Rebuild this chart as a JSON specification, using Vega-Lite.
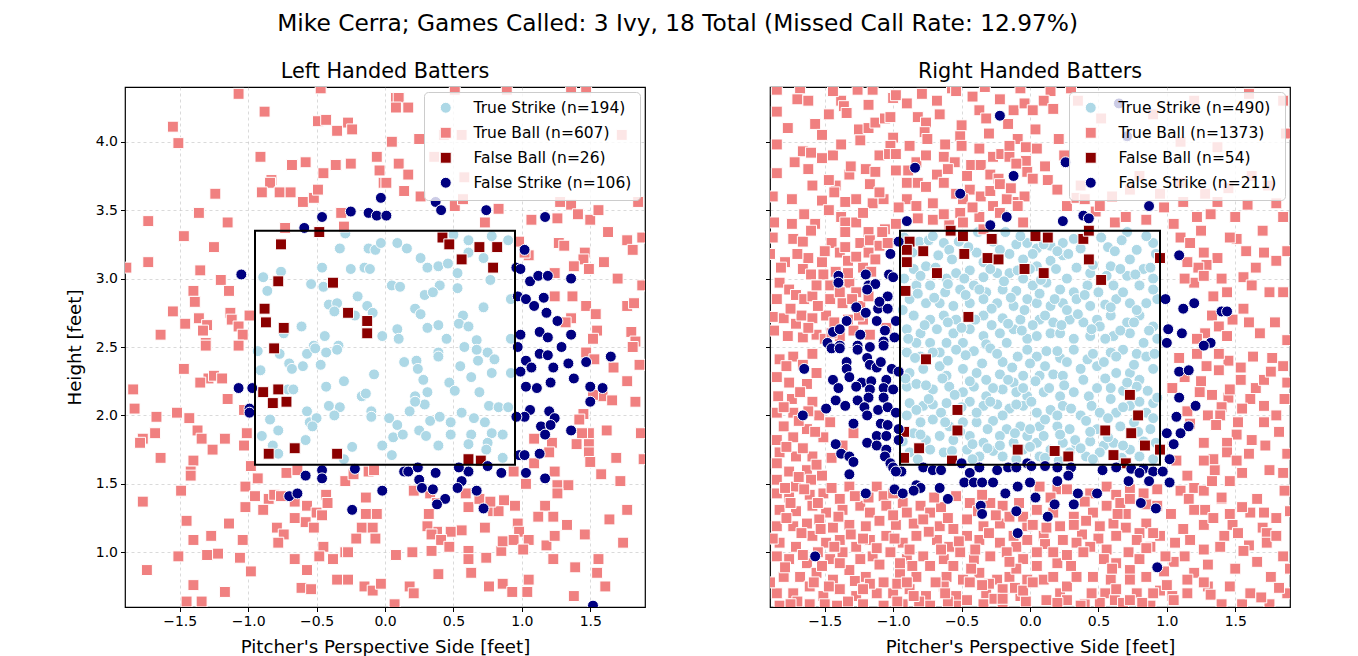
{
"$schema":"https://vega.github.io/schema/vega-lite/v6.json",
"padding":{"left":64,"top":12,"right":10,"bottom":2},
"title":{"text":"Mike Cerra; Games Called: 3 Ivy, 18 Total (Missed Call Rate: 12.97%)","fontSize":23.3,"anchor":"middle","offset":24},
"config":{
"font":"DejaVu Sans",
"view":{"stroke":"black","strokeWidth":1.2},
"axis":{"domain":false,"grid":true,"gridColor":"#b0b0b0","gridOpacity":0.6,"gridDash":[3,3],"gridWidth":0.8,"tickColor":"black","tickSize":4.5,"tickWidth":1,"labelFont":"DejaVu Sans","labelFontSize":14,"labelColor":"black","labelPadding":3,"titleFont":"DejaVu Sans","titleFontSize":18.2,"titleFontWeight":"normal","titleColor":"black"},
"title":{"font":"DejaVu Sans","fontSize":20.8,"fontWeight":"normal","color":"black","offset":4},
"legend":{"fillColor":"rgba(255,255,255,0.8)","strokeColor":"#cccccc","cornerRadius":4,"padding":8,"offset":5,"labelFont":"DejaVu Sans","labelFontSize":15.5,"labelColor":"black","rowPadding":8,"symbolSize":120,"symbolOffset":6,"labelOffset":20,"symbolStrokeColor":"white","symbolStrokeWidth":1}
},
"datasets":{
"zone":[{"x1":-0.95,"x2":0.95,"y1":1.64,"y2":3.35}],
"lhb":[
{"c":"TS","x":-0.29,"y":3.33},{"c":"TS","x":-0.33,"y":3.22},{"c":"TS","x":-0.12,"y":3.22},{"c":"TS","x":-0.07,"y":3.21},{"c":"TS","x":-0.03,"y":3.26},{"c":"TS","x":-0.46,"y":3.08},{"c":"TS","x":-0.25,"y":3.07},{"c":"TS","x":-0.15,"y":3.08},{"c":"TS","x":-0.11,"y":3.07},{"c":"TS","x":-0.76,"y":3.05},{"c":"TS","x":-0.89,"y":3.01},{"c":"TS","x":-0.86,"y":2.91},{"c":"TS","x":-0.54,"y":2.96},{"c":"TS","x":-0.45,"y":2.94},{"c":"TS","x":-0.2,"y":2.87},{"c":"TS","x":-0.41,"y":2.81},{"c":"TS","x":-0.35,"y":2.82},{"c":"TS","x":-0.37,"y":2.76},{"c":"TS","x":-0.13,"y":2.8},{"c":"TS","x":-0.09,"y":2.75},{"c":"TS","x":-0.22,"y":2.73},{"c":"TS","x":-0.61,"y":2.65},{"c":"TS","x":-0.44,"y":2.58},{"c":"TS","x":-0.02,"y":2.58},{"c":"TS","x":-0.52,"y":2.51},{"c":"TS","x":-0.34,"y":2.51},{"c":"TS","x":-0.74,"y":2.6},
{"c":"TS","x":0.09,"y":3.26},{"c":"TS","x":0.16,"y":3.22},{"c":"TS","x":0.5,"y":3.32},{"c":"TS","x":0.61,"y":3.28},{"c":"TS","x":0.78,"y":3.31},{"c":"TS","x":0.9,"y":3.28},{"c":"TS","x":0.72,"y":3.15},{"c":"TS","x":0.26,"y":3.15},{"c":"TS","x":0.31,"y":3.08},{"c":"TS","x":0.39,"y":3.09},{"c":"TS","x":0.46,"y":3.11},{"c":"TS","x":0.53,"y":3.04},{"c":"TS","x":0.61,"y":3.19},{"c":"TS","x":0.05,"y":2.95},{"c":"TS","x":0.11,"y":2.94},{"c":"TS","x":0.4,"y":2.95},{"c":"TS","x":0.29,"y":2.88},{"c":"TS","x":0.35,"y":2.9},{"c":"TS","x":0.53,"y":2.93},{"c":"TS","x":0.77,"y":2.99},{"c":"TS","x":0.92,"y":2.85},{"c":"TS","x":0.22,"y":2.78},{"c":"TS","x":0.26,"y":2.74},{"c":"TS","x":0.57,"y":2.73},{"c":"TS","x":0.72,"y":2.79},{"c":"TS","x":0.39,"y":2.66},{"c":"TS","x":0.31,"y":2.64},{"c":"TS","x":0.09,"y":2.63},{"c":"TS","x":0.54,"y":2.67},{"c":"TS","x":0.61,"y":2.65},{"c":"TS","x":0.1,"y":2.56},{"c":"TS","x":0.45,"y":2.56},{"c":"TS","x":0.67,"y":2.55},{"c":"TS","x":0.92,"y":2.56},
{"c":"TS","x":-0.93,"y":2.47},{"c":"TS","x":-0.77,"y":2.45},{"c":"TS","x":-0.57,"y":2.45},{"c":"TS","x":-0.51,"y":2.49},{"c":"TS","x":-0.43,"y":2.46},{"c":"TS","x":-0.35,"y":2.48},{"c":"TS","x":-0.91,"y":2.33},{"c":"TS","x":-0.7,"y":2.38},{"c":"TS","x":-0.68,"y":2.34},{"c":"TS","x":-0.6,"y":2.36},{"c":"TS","x":-0.47,"y":2.37},{"c":"TS","x":-0.3,"y":2.25},{"c":"TS","x":-0.43,"y":2.21},{"c":"TS","x":-0.08,"y":2.3},{"c":"TS","x":-0.71,"y":2.19},{"c":"TS","x":-0.67,"y":2.19},{"c":"TS","x":-0.17,"y":2.14},{"c":"TS","x":-0.14,"y":2.16},{"c":"TS","x":-0.1,"y":2.03},{"c":"TS","x":-0.1,"y":1.99},{"c":"TS","x":-0.41,"y":2.07},{"c":"TS","x":-0.33,"y":2.06},{"c":"TS","x":-0.57,"y":2.03},{"c":"TS","x":-0.37,"y":2.0},{"c":"TS","x":-0.84,"y":1.97},{"c":"TS","x":-0.78,"y":1.89},{"c":"TS","x":-0.55,"y":1.95},{"c":"TS","x":-0.5,"y":1.98},{"c":"TS","x":-0.53,"y":1.92},{"c":"TS","x":-0.9,"y":1.85},{"c":"TS","x":-0.58,"y":1.82},{"c":"TS","x":-0.82,"y":1.78},{"c":"TS","x":-0.78,"y":1.72},{"c":"TS","x":-0.24,"y":1.77},{"c":"TS","x":-0.3,"y":1.68},{"c":"TS","x":-0.02,"y":1.78},
{"c":"TS","x":0.39,"y":2.46},{"c":"TS","x":0.58,"y":2.5},{"c":"TS","x":0.67,"y":2.48},{"c":"TS","x":0.75,"y":2.46},{"c":"TS","x":0.8,"y":2.41},{"c":"TS","x":0.14,"y":2.39},{"c":"TS","x":0.23,"y":2.4},{"c":"TS","x":0.24,"y":2.34},{"c":"TS","x":0.39,"y":2.43},{"c":"TS","x":0.55,"y":2.36},{"c":"TS","x":0.68,"y":2.4},{"c":"TS","x":0.78,"y":2.31},{"c":"TS","x":0.63,"y":2.28},{"c":"TS","x":0.92,"y":2.31},{"c":"TS","x":0.28,"y":2.26},{"c":"TS","x":0.47,"y":2.24},{"c":"TS","x":0.51,"y":2.18},{"c":"TS","x":0.69,"y":2.17},{"c":"TS","x":0.22,"y":2.14},{"c":"TS","x":0.29,"y":2.08},{"c":"TS","x":0.22,"y":2.1},{"c":"TS","x":0.31,"y":2.17},{"c":"TS","x":0.76,"y":2.07},{"c":"TS","x":0.83,"y":2.06},{"c":"TS","x":0.9,"y":2.06},{"c":"TS","x":0.18,"y":2.03},{"c":"TS","x":0.03,"y":1.98},{"c":"TS","x":0.09,"y":1.93},{"c":"TS","x":0.33,"y":1.96},{"c":"TS","x":0.4,"y":1.99},{"c":"TS","x":0.48,"y":1.95},{"c":"TS","x":0.56,"y":2.02},{"c":"TS","x":0.65,"y":1.98},{"c":"TS","x":0.73,"y":1.95},{"c":"TS","x":0.25,"y":1.89},{"c":"TS","x":0.3,"y":1.85},{"c":"TS","x":0.06,"y":1.84},{"c":"TS","x":0.13,"y":1.86},{"c":"TS","x":0.48,"y":1.86},{"c":"TS","x":0.63,"y":1.86},{"c":"TS","x":0.78,"y":1.87},{"c":"TS","x":0.86,"y":1.86},{"c":"TS","x":0.61,"y":1.79},{"c":"TS","x":0.75,"y":1.8},{"c":"TS","x":0.39,"y":1.78},{"c":"TS","x":0.05,"y":1.71},{"c":"TS","x":0.74,"y":1.75},{"c":"TS","x":0.86,"y":1.69},
{"c":"TB","x":-1.07,"y":4.35},{"c":"TB","x":-0.47,"y":4.39},{"c":"TB","x":-0.88,"y":4.22},{"c":"TB","x":-1.55,"y":4.11},{"c":"TB","x":-1.51,"y":3.99},{"c":"TB","x":-0.49,"y":4.15},{"c":"TB","x":-0.43,"y":4.16},{"c":"TB","x":-0.27,"y":4.14},{"c":"TB","x":-0.24,"y":4.09},{"c":"TB","x":-0.35,"y":4.08},{"c":"TB","x":-0.91,"y":3.89},{"c":"TB","x":-0.68,"y":3.83},{"c":"TB","x":-0.58,"y":3.85},{"c":"TB","x":-0.36,"y":3.83},{"c":"TB","x":-0.25,"y":3.84},{"c":"TB","x":-0.06,"y":3.89},{"c":"TB","x":-0.04,"y":3.79},{"c":"TB","x":-0.45,"y":3.77},{"c":"TB","x":-0.83,"y":3.72},{"c":"TB","x":-0.84,"y":3.7},{"c":"TB","x":-1.24,"y":3.62},{"c":"TB","x":-0.9,"y":3.63},{"c":"TB","x":-0.77,"y":3.63},{"c":"TB","x":-0.69,"y":3.63},{"c":"TB","x":-0.6,"y":3.56},{"c":"TB","x":-0.52,"y":3.59},{"c":"TB","x":-0.49,"y":3.65},{"c":"TB","x":-0.01,"y":3.7},{"c":"TB","x":-1.73,"y":3.42},{"c":"TB","x":-1.36,"y":3.48},{"c":"TB","x":-1.15,"y":3.41},{"c":"TB","x":-0.32,"y":3.48},{"c":"TB","x":-0.73,"y":3.37},{"c":"TB","x":-0.3,"y":3.38},{"c":"TB","x":-1.47,"y":3.31},{"c":"TB","x":-1.25,"y":3.23},{"c":"TB","x":-1.73,"y":3.12},{"c":"TB","x":-1.89,"y":3.08},{"c":"TB","x":-1.35,"y":3.06},{"c":"TB","x":-1.2,"y":2.99},{"c":"TB","x":-1.4,"y":2.91},{"c":"TB","x":-1.14,"y":2.91},{"c":"TB","x":-1.39,"y":2.83},{"c":"TB","x":-1.55,"y":2.76},{"c":"TB","x":-1.13,"y":2.75},{"c":"TB","x":-0.99,"y":2.73},{"c":"TB","x":-1.46,"y":2.67},{"c":"TB","x":-1.36,"y":2.71},{"c":"TB","x":-1.3,"y":2.66},{"c":"TB","x":-1.12,"y":2.7},{"c":"TB","x":-1.07,"y":2.65},{"c":"TB","x":-1.33,"y":2.62},{"c":"TB","x":-1.04,"y":2.59},{"c":"TB","x":-1.64,"y":2.59},{"c":"TB","x":-1.31,"y":2.53},{"c":"TB","x":-1.07,"y":2.51},
{"c":"TB","x":0.08,"y":4.32},{"c":"TB","x":0.1,"y":4.32},{"c":"TB","x":0.17,"y":4.25},{"c":"TB","x":0.08,"y":4.25},{"c":"TB","x":0.05,"y":4.0},{"c":"TB","x":0.25,"y":4.02},{"c":"TB","x":0.1,"y":3.84},{"c":"TB","x":0.17,"y":3.76},{"c":"TB","x":0.01,"y":3.7},{"c":"TB","x":0.14,"y":3.64},{"c":"TB","x":0.26,"y":3.6},{"c":"TB","x":0.51,"y":4.38},{"c":"TB","x":0.89,"y":4.38},{"c":"TB","x":1.36,"y":4.39},{"c":"TB","x":1.47,"y":4.39},{"c":"TB","x":0.43,"y":4.05},{"c":"TB","x":0.56,"y":4.05},{"c":"TB","x":0.58,"y":3.74},{"c":"TB","x":0.36,"y":3.89},{"c":"TB","x":1.73,"y":4.05},{"c":"TB","x":0.51,"y":3.53},{"c":"TB","x":0.57,"y":3.58},{"c":"TB","x":0.83,"y":3.51},{"c":"TB","x":0.73,"y":3.41},{"c":"TB","x":1.07,"y":3.43},{"c":"TB","x":1.26,"y":3.44},{"c":"TB","x":1.28,"y":3.56},{"c":"TB","x":1.36,"y":3.54},{"c":"TB","x":1.41,"y":3.47},{"c":"TB","x":1.5,"y":3.43},{"c":"TB","x":1.56,"y":3.5},{"c":"TB","x":1.85,"y":3.56},{"c":"TB","x":0.98,"y":3.27},{"c":"TB","x":1.05,"y":3.17},{"c":"TB","x":1.27,"y":3.26},{"c":"TB","x":1.31,"y":3.24},{"c":"TB","x":1.46,"y":3.19},{"c":"TB","x":1.45,"y":3.14},{"c":"TB","x":1.49,"y":3.07},{"c":"TB","x":1.63,"y":3.34},{"c":"TB","x":1.77,"y":3.28},{"c":"TB","x":1.81,"y":3.21},{"c":"TB","x":1.88,"y":3.3},{"c":"TB","x":1.6,"y":3.12},{"c":"TB","x":1.7,"y":3.0},{"c":"TB","x":1.38,"y":3.09},{"c":"TB","x":1.24,"y":2.87},{"c":"TB","x":1.37,"y":2.87},{"c":"TB","x":1.24,"y":3.04},{"c":"TB","x":1.47,"y":2.8},{"c":"TB","x":1.54,"y":2.74},{"c":"TB","x":1.77,"y":2.8},{"c":"TB","x":1.82,"y":2.82},{"c":"TB","x":1.88,"y":2.95},{"c":"TB","x":1.36,"y":2.71},{"c":"TB","x":1.32,"y":2.68},{"c":"TB","x":1.55,"y":2.62},{"c":"TB","x":1.52,"y":2.56},{"c":"TB","x":1.8,"y":2.61},{"c":"TB","x":1.83,"y":2.54},{"c":"TB","x":1.02,"y":3.19},
{"c":"TB","x":-1.31,"y":2.51},{"c":"TB","x":-1.47,"y":2.34},{"c":"TB","x":-1.29,"y":2.27},{"c":"TB","x":-1.35,"y":2.24},{"c":"TB","x":-1.25,"y":2.29},{"c":"TB","x":-1.19,"y":2.27},{"c":"TB","x":-1.84,"y":2.19},{"c":"TB","x":-1.83,"y":2.05},{"c":"TB","x":-1.15,"y":2.12},{"c":"TB","x":-1.03,"y":2.04},{"c":"TB","x":-1.67,"y":1.99},{"c":"TB","x":-1.52,"y":2.02},{"c":"TB","x":-1.43,"y":1.98},{"c":"TB","x":-1.37,"y":1.89},{"c":"TB","x":-1.34,"y":1.83},{"c":"TB","x":-1.68,"y":1.87},{"c":"TB","x":-1.77,"y":1.83},{"c":"TB","x":-1.79,"y":1.8},{"c":"TB","x":-1.17,"y":1.83},{"c":"TB","x":-1.26,"y":1.75},{"c":"TB","x":-1.01,"y":1.87},{"c":"TB","x":-1.03,"y":1.78},{"c":"TB","x":-1.64,"y":1.69},{"c":"TB","x":-1.4,"y":1.67},{"c":"TB","x":-1.42,"y":1.59},{"c":"TB","x":-1.42,"y":1.56},{"c":"TB","x":-0.98,"y":1.63},{"c":"TB","x":-0.93,"y":1.54},{"c":"TB","x":-1.02,"y":1.48},{"c":"TB","x":-1.49,"y":1.45},{"c":"TB","x":-0.95,"y":1.41},{"c":"TB","x":-0.85,"y":1.39},{"c":"TB","x":-0.89,"y":1.31},{"c":"TB","x":-0.81,"y":1.42},{"c":"TB","x":-0.76,"y":1.41},{"c":"TB","x":-0.72,"y":1.58},{"c":"TB","x":-0.64,"y":1.6},{"c":"TB","x":-1.02,"y":1.33},{"c":"TB","x":-1.77,"y":1.37},{"c":"TB","x":-1.45,"y":1.23},{"c":"TB","x":-1.14,"y":1.21},{"c":"TB","x":-1.4,"y":1.09},{"c":"TB","x":-1.27,"y":1.12},{"c":"TB","x":-1.04,"y":1.09},{"c":"TB","x":-1.51,"y":0.97},{"c":"TB","x":-1.3,"y":0.98},{"c":"TB","x":-1.22,"y":0.99},{"c":"TB","x":-1.06,"y":0.96},{"c":"TB","x":-0.98,"y":0.86},{"c":"TB","x":-1.74,"y":0.87},{"c":"TB","x":-1.4,"y":0.76},{"c":"TB","x":-1.17,"y":0.71},{"c":"TB","x":-1.45,"y":0.64},{"c":"TB","x":-1.34,"y":0.64},{"c":"TB","x":-0.66,"y":1.37},{"c":"TB","x":-0.57,"y":1.34},{"c":"TB","x":-0.5,"y":1.29},{"c":"TB","x":-0.46,"y":1.27},{"c":"TB","x":-0.58,"y":1.22},{"c":"TB","x":-0.52,"y":1.18},{"c":"TB","x":-0.66,"y":1.25},{"c":"TB","x":-0.79,"y":1.18},{"c":"TB","x":-0.74,"y":1.13},{"c":"TB","x":-0.78,"y":1.07},{"c":"TB","x":-0.43,"y":1.42},{"c":"TB","x":-0.42,"y":1.36},{"c":"TB","x":-0.45,"y":1.04},{"c":"TB","x":-0.48,"y":0.97},{"c":"TB","x":-0.38,"y":0.95},{"c":"TB","x":-0.29,"y":1.0},{"c":"TB","x":-0.27,"y":1.0},{"c":"TB","x":-0.66,"y":0.95},{"c":"TB","x":-0.57,"y":0.87},{"c":"TB","x":-0.35,"y":0.8},{"c":"TB","x":-0.27,"y":0.8},{"c":"TB","x":-0.61,"y":0.74},{"c":"TB","x":-0.54,"y":0.73},{"c":"TB","x":-0.15,"y":0.75},{"c":"TB","x":-0.09,"y":0.72},{"c":"TB","x":-0.03,"y":0.77},{"c":"TB","x":-0.14,"y":1.4},{"c":"TB","x":-0.06,"y":1.28},{"c":"TB","x":-0.14,"y":1.28},{"c":"TB","x":-0.17,"y":1.18},{"c":"TB","x":-0.09,"y":1.18},{"c":"TB","x":-0.07,"y":1.1},{"c":"TB","x":-0.21,"y":1.1},{"c":"TB","x":-0.29,"y":1.52},{"c":"TB","x":-0.23,"y":1.57},{"c":"TB","x":-0.12,"y":1.59},{"c":"TB","x":-0.08,"y":1.6},
{"c":"TB","x":1.47,"y":2.46},{"c":"TB","x":1.53,"y":2.41},{"c":"TB","x":1.67,"y":2.35},{"c":"TB","x":1.81,"y":2.5},{"c":"TB","x":1.86,"y":2.37},{"c":"TB","x":1.77,"y":2.25},{"c":"TB","x":1.59,"y":2.14},{"c":"TB","x":1.66,"y":2.11},{"c":"TB","x":1.83,"y":2.1},{"c":"TB","x":1.52,"y":2.15},{"c":"TB","x":1.45,"y":2.01},{"c":"TB","x":1.42,"y":1.97},{"c":"TB","x":1.49,"y":1.87},{"c":"TB","x":1.44,"y":1.87},{"c":"TB","x":1.4,"y":1.79},{"c":"TB","x":1.49,"y":1.79},{"c":"TB","x":1.49,"y":1.73},{"c":"TB","x":1.5,"y":1.66},{"c":"TB","x":1.62,"y":1.89},{"c":"TB","x":1.87,"y":1.87},{"c":"TB","x":1.22,"y":1.8},{"c":"TB","x":1.09,"y":1.83},{"c":"TB","x":1.2,"y":1.73},{"c":"TB","x":1.09,"y":1.65},{"c":"TB","x":1.24,"y":1.59},{"c":"TB","x":1.69,"y":1.69},{"c":"TB","x":1.89,"y":1.68},{"c":"TB","x":1.58,"y":1.57},{"c":"TB","x":1.72,"y":1.52},{"c":"TB","x":0.94,"y":1.59},{"c":"TB","x":1.03,"y":1.5},{"c":"TB","x":1.26,"y":1.49},{"c":"TB","x":1.34,"y":1.49},{"c":"TB","x":1.26,"y":1.43},{"c":"TB","x":0.87,"y":1.38},{"c":"TB","x":0.95,"y":1.34},{"c":"TB","x":1.17,"y":1.34},{"c":"TB","x":0.79,"y":1.3},{"c":"TB","x":0.83,"y":1.3},{"c":"TB","x":0.61,"y":1.33},{"c":"TB","x":0.69,"y":1.39},{"c":"TB","x":0.77,"y":1.37},{"c":"TB","x":1.12,"y":1.26},{"c":"TB","x":1.23,"y":1.26},{"c":"TB","x":1.33,"y":1.2},{"c":"TB","x":1.46,"y":1.13},{"c":"TB","x":1.64,"y":1.24},{"c":"TB","x":1.77,"y":1.31},{"c":"TB","x":0.97,"y":1.21},{"c":"TB","x":0.98,"y":1.15},{"c":"TB","x":0.73,"y":1.18},{"c":"TB","x":0.56,"y":1.16},{"c":"TB","x":0.48,"y":1.15},{"c":"TB","x":0.38,"y":1.15},{"c":"TB","x":0.31,"y":1.19},{"c":"TB","x":0.34,"y":1.13},{"c":"TB","x":0.41,"y":1.09},{"c":"TB","x":0.47,"y":1.04},{"c":"TB","x":0.34,"y":1.01},{"c":"TB","x":0.2,"y":1.0},{"c":"TB","x":0.08,"y":0.98},{"c":"TB","x":0.61,"y":1.01},{"c":"TB","x":0.61,"y":0.95},{"c":"TB","x":0.74,"y":0.96},{"c":"TB","x":0.85,"y":1.01},{"c":"TB","x":0.86,"y":1.08},{"c":"TB","x":0.94,"y":1.09},{"c":"TB","x":1.05,"y":1.09},{"c":"TB","x":1.18,"y":1.05},{"c":"TB","x":1.24,"y":1.12},{"c":"TB","x":1.01,"y":1.02},{"c":"TB","x":1.23,"y":0.95},{"c":"TB","x":1.39,"y":0.89},{"c":"TB","x":1.55,"y":0.85},{"c":"TB","x":1.56,"y":0.95},{"c":"TB","x":1.74,"y":1.07},{"c":"TB","x":0.39,"y":0.84},{"c":"TB","x":0.63,"y":0.85},{"c":"TB","x":1.05,"y":0.8},{"c":"TB","x":0.76,"y":0.75},{"c":"TB","x":0.86,"y":0.77},{"c":"TB","x":0.93,"y":0.71},{"c":"TB","x":1.04,"y":0.71},{"c":"TB","x":1.38,"y":0.68},{"c":"TB","x":1.61,"y":0.75},{"c":"TB","x":0.18,"y":0.75},{"c":"TB","x":0.21,"y":0.7},{"c":"TB","x":0.07,"y":0.62},{"c":"TB","x":0.33,"y":1.43},{"c":"TB","x":0.21,"y":1.45},{"c":"TB","x":0.59,"y":1.43},{"c":"TB","x":0.32,"y":1.28},{"c":"TB","x":0.38,"y":1.36},
{"c":"FB","x":-0.48,"y":3.34},{"c":"FB","x":-0.76,"y":3.25},{"c":"FB","x":-0.78,"y":2.98},{"c":"FB","x":-0.38,"y":2.97},{"c":"FB","x":-0.88,"y":2.78},{"c":"FB","x":-0.87,"y":2.68},{"c":"FB","x":-0.74,"y":2.64},{"c":"FB","x":-0.27,"y":2.75},{"c":"FB","x":-0.13,"y":2.69},{"c":"FB","x":-0.13,"y":2.6},{"c":"FB","x":-0.81,"y":2.49},{"c":"FB","x":0.42,"y":3.3},{"c":"FB","x":0.47,"y":3.25},{"c":"FB","x":0.69,"y":3.23},{"c":"FB","x":0.82,"y":3.23},{"c":"FB","x":0.56,"y":3.14},{"c":"FB","x":0.79,"y":3.08},{"c":"FB","x":-0.78,"y":2.19},{"c":"FB","x":-0.89,"y":2.17},{"c":"FB","x":-0.82,"y":2.09},{"c":"FB","x":-0.72,"y":2.1},{"c":"FB","x":-0.66,"y":1.76},{"c":"FB","x":-0.85,"y":1.72},{"c":"FB","x":-0.35,"y":1.72},{"c":"FB","x":0.61,"y":1.68},{"c":"FB","x":0.7,"y":1.67},
{"c":"FS","x":-0.03,"y":3.59},{"c":"FS","x":-0.25,"y":3.49},{"c":"FS","x":-0.12,"y":3.48},{"c":"FS","x":-0.06,"y":3.46},{"c":"FS","x":-0.46,"y":3.45},{"c":"FS","x":-0.59,"y":3.37},{"c":"FS","x":-1.05,"y":3.03},
{"c":"FS","x":0.01,"y":3.46},{"c":"FS","x":0.37,"y":3.56},{"c":"FS","x":0.41,"y":3.5},{"c":"FS","x":0.74,"y":3.5},{"c":"FS","x":1.17,"y":3.45},{"c":"FS","x":1.02,"y":3.21},{"c":"FS","x":0.96,"y":3.08},{"c":"FS","x":0.99,"y":3.07},{"c":"FS","x":1.06,"y":2.98},{"c":"FS","x":1.12,"y":3.02},{"c":"FS","x":1.19,"y":3.02},{"c":"FS","x":1.36,"y":3.0},{"c":"FS","x":0.97,"y":2.87},{"c":"FS","x":1.03,"y":2.85},{"c":"FS","x":1.09,"y":2.8},{"c":"FS","x":1.16,"y":2.86},{"c":"FS","x":1.18,"y":2.75},{"c":"FS","x":1.26,"y":2.69},{"c":"FS","x":1.13,"y":2.61},{"c":"FS","x":1.19,"y":2.57},{"c":"FS","x":1.36,"y":2.59},{"c":"FS","x":0.99,"y":2.59},
{"c":"FS","x":-1.07,"y":2.2},{"c":"FS","x":-0.97,"y":2.2},{"c":"FS","x":-0.99,"y":2.05},{"c":"FS","x":-0.99,"y":2.02},{"c":"FS","x":-0.58,"y":1.56},{"c":"FS","x":-0.46,"y":1.6},{"c":"FS","x":-0.46,"y":1.54},{"c":"FS","x":-0.7,"y":1.41},{"c":"FS","x":-0.64,"y":1.43},{"c":"FS","x":-0.22,"y":1.61},{"c":"FS","x":-0.24,"y":1.31},{"c":"FS","x":-0.02,"y":1.45},
{"c":"FS","x":0.97,"y":2.5},{"c":"FS","x":1.13,"y":2.45},{"c":"FS","x":1.19,"y":2.44},{"c":"FS","x":1.29,"y":2.5},{"c":"FS","x":1.03,"y":2.4},{"c":"FS","x":1.07,"y":2.35},{"c":"FS","x":0.99,"y":2.32},{"c":"FS","x":1.23,"y":2.35},{"c":"FS","x":1.34,"y":2.38},{"c":"FS","x":1.47,"y":2.39},{"c":"FS","x":1.65,"y":2.43},{"c":"FS","x":1.38,"y":2.27},{"c":"FS","x":1.03,"y":2.21},{"c":"FS","x":1.11,"y":2.2},{"c":"FS","x":1.21,"y":2.24},{"c":"FS","x":1.5,"y":2.21},{"c":"FS","x":1.59,"y":2.2},{"c":"FS","x":1.5,"y":2.1},{"c":"FS","x":1.06,"y":2.04},{"c":"FS","x":1.2,"y":2.03},{"c":"FS","x":1.02,"y":1.99},{"c":"FS","x":0.96,"y":1.99},{"c":"FS","x":1.24,"y":1.98},{"c":"FS","x":1.14,"y":1.92},{"c":"FS","x":1.21,"y":1.93},{"c":"FS","x":1.17,"y":1.86},{"c":"FS","x":1.36,"y":1.89},{"c":"FS","x":0.98,"y":1.71},{"c":"FS","x":1.02,"y":1.71},{"c":"FS","x":1.13,"y":1.72},{"c":"FS","x":1.03,"y":1.58},{"c":"FS","x":1.17,"y":1.54},{"c":"FS","x":0.85,"y":1.58},{"c":"FS","x":0.75,"y":1.63},{"c":"FS","x":0.61,"y":1.59},{"c":"FS","x":0.54,"y":1.62},{"c":"FS","x":0.56,"y":1.52},{"c":"FS","x":0.37,"y":1.58},{"c":"FS","x":0.14,"y":1.59},{"c":"FS","x":0.17,"y":1.59},{"c":"FS","x":0.25,"y":1.53},{"c":"FS","x":0.24,"y":1.62},{"c":"FS","x":0.27,"y":1.47},{"c":"FS","x":0.35,"y":1.46},{"c":"FS","x":0.53,"y":1.47},{"c":"FS","x":0.67,"y":1.45},{"c":"FS","x":0.44,"y":1.39},{"c":"FS","x":0.38,"y":1.35},{"c":"FS","x":0.72,"y":1.32},{"c":"FS","x":1.52,"y":0.61}
],
"rhb":[
{"c":"TS","x":-0.81,"y":3.27},{"c":"TS","x":-0.74,"y":3.28},{"c":"TS","x":-0.63,"y":3.26},{"c":"TS","x":-0.59,"y":3.21},{"c":"TS","x":-0.38,"y":3.34},{"c":"TS","x":-0.18,"y":3.34},{"c":"TS","x":-0.1,"y":3.25},{"c":"TS","x":-0.02,"y":3.26},{"c":"TS","x":-0.67,"y":3.17},{"c":"TS","x":-0.57,"y":3.14},{"c":"TS","x":-0.39,"y":3.19},{"c":"TS","x":-0.34,"y":3.12},{"c":"TS","x":-0.15,"y":3.18},{"c":"TS","x":-0.05,"y":3.14},{"c":"TS","x":-0.85,"y":3.07},{"c":"TS","x":-0.76,"y":3.09},{"c":"TS","x":-0.61,"y":3.0},{"c":"TS","x":-0.54,"y":3.04},{"c":"TS","x":-0.44,"y":3.06},{"c":"TS","x":-0.34,"y":3.01},{"c":"TS","x":-0.24,"y":3.04},{"c":"TS","x":-0.15,"y":3.04},{"c":"TS","x":-0.05,"y":3.0},{"c":"TS","x":-0.83,"y":2.95},{"c":"TS","x":-0.73,"y":2.95},{"c":"TS","x":-0.62,"y":2.9},{"c":"TS","x":-0.51,"y":2.92},{"c":"TS","x":-0.41,"y":2.95},{"c":"TS","x":-0.32,"y":2.9},{"c":"TS","x":-0.2,"y":2.92},{"c":"TS","x":-0.1,"y":2.91},{"c":"TS","x":-0.88,"y":2.85},{"c":"TS","x":-0.76,"y":2.82},{"c":"TS","x":-0.66,"y":2.82},{"c":"TS","x":-0.56,"y":2.8},{"c":"TS","x":-0.44,"y":2.82},{"c":"TS","x":-0.34,"y":2.85},{"c":"TS","x":-0.24,"y":2.82},{"c":"TS","x":-0.12,"y":2.8},{"c":"TS","x":-0.02,"y":2.85},{"c":"TS","x":-0.85,"y":2.73},{"c":"TS","x":-0.73,"y":2.7},{"c":"TS","x":-0.63,"y":2.73},{"c":"TS","x":-0.54,"y":2.7},{"c":"TS","x":-0.34,"y":2.73},{"c":"TS","x":-0.2,"y":2.71},{"c":"TS","x":-0.07,"y":2.7},{"c":"TS","x":-0.9,"y":2.63},{"c":"TS","x":-0.8,"y":2.6},{"c":"TS","x":-0.68,"y":2.63},{"c":"TS","x":-0.56,"y":2.6},{"c":"TS","x":-0.44,"y":2.63},{"c":"TS","x":-0.34,"y":2.58},{"c":"TS","x":-0.22,"y":2.6},{"c":"TS","x":-0.12,"y":2.63},{"c":"TS","x":-0.02,"y":2.56},{"c":"TS","x":-0.83,"y":2.53},{"c":"TS","x":-0.73,"y":2.53},{"c":"TS","x":-0.61,"y":2.53},{"c":"TS","x":-0.49,"y":2.53},{"c":"TS","x":-0.32,"y":2.52},{"c":"TS","x":-0.17,"y":2.53},
{"c":"TS","x":0.05,"y":3.22},{"c":"TS","x":0.15,"y":3.24},{"c":"TS","x":0.24,"y":3.26},{"c":"TS","x":0.32,"y":3.29},{"c":"TS","x":0.57,"y":3.23},{"c":"TS","x":0.71,"y":3.34},{"c":"TS","x":0.78,"y":3.21},{"c":"TS","x":0.9,"y":3.26},{"c":"TS","x":0.05,"y":3.09},{"c":"TS","x":0.15,"y":3.13},{"c":"TS","x":0.24,"y":3.17},{"c":"TS","x":0.34,"y":3.08},{"c":"TS","x":0.44,"y":3.04},{"c":"TS","x":0.59,"y":3.09},{"c":"TS","x":0.73,"y":3.14},{"c":"TS","x":0.83,"y":3.07},{"c":"TS","x":0.9,"y":3.0},{"c":"TS","x":0.02,"y":2.95},{"c":"TS","x":0.12,"y":2.97},{"c":"TS","x":0.22,"y":2.92},{"c":"TS","x":0.32,"y":2.9},{"c":"TS","x":0.42,"y":2.95},{"c":"TS","x":0.61,"y":2.95},{"c":"TS","x":0.71,"y":3.02},{"c":"TS","x":0.8,"y":2.95},{"c":"TS","x":0.05,"y":2.82},{"c":"TS","x":0.15,"y":2.8},{"c":"TS","x":0.24,"y":2.82},{"c":"TS","x":0.34,"y":2.85},{"c":"TS","x":0.44,"y":2.8},{"c":"TS","x":0.55,"y":2.81},{"c":"TS","x":0.63,"y":2.85},{"c":"TS","x":0.73,"y":2.82},{"c":"TS","x":0.85,"y":2.82},{"c":"TS","x":0.93,"y":2.85},{"c":"TS","x":0.07,"y":2.7},{"c":"TS","x":0.17,"y":2.68},{"c":"TS","x":0.29,"y":2.7},{"c":"TS","x":0.39,"y":2.68},{"c":"TS","x":0.49,"y":2.7},{"c":"TS","x":0.59,"y":2.73},{"c":"TS","x":0.71,"y":2.68},{"c":"TS","x":0.8,"y":2.73},{"c":"TS","x":0.9,"y":2.65},{"c":"TS","x":0.05,"y":2.58},{"c":"TS","x":0.15,"y":2.6},{"c":"TS","x":0.22,"y":2.6},{"c":"TS","x":0.32,"y":2.56},{"c":"TS","x":0.44,"y":2.58},{"c":"TS","x":0.51,"y":2.65},{"c":"TS","x":0.61,"y":2.58},{"c":"TS","x":0.73,"y":2.6},{"c":"TS","x":0.83,"y":2.53},{"c":"TS","x":0.93,"y":2.56},
{"c":"TS","x":-0.9,"y":2.46},{"c":"TS","x":-0.8,"y":2.43},{"c":"TS","x":-0.66,"y":2.46},{"c":"TS","x":-0.54,"y":2.48},{"c":"TS","x":-0.41,"y":2.47},{"c":"TS","x":-0.29,"y":2.49},{"c":"TS","x":-0.2,"y":2.39},{"c":"TS","x":-0.09,"y":2.43},{"c":"TS","x":-0.02,"y":2.48},{"c":"TS","x":-0.88,"y":2.31},{"c":"TS","x":-0.78,"y":2.34},{"c":"TS","x":-0.66,"y":2.36},{"c":"TS","x":-0.61,"y":2.29},{"c":"TS","x":-0.49,"y":2.34},{"c":"TS","x":-0.39,"y":2.31},{"c":"TS","x":-0.32,"y":2.26},{"c":"TS","x":-0.22,"y":2.3},{"c":"TS","x":-0.12,"y":2.24},{"c":"TS","x":-0.05,"y":2.29},{"c":"TS","x":-0.9,"y":2.21},{"c":"TS","x":-0.83,"y":2.23},{"c":"TS","x":-0.71,"y":2.19},{"c":"TS","x":-0.59,"y":2.21},{"c":"TS","x":-0.49,"y":2.17},{"c":"TS","x":-0.41,"y":2.21},{"c":"TS","x":-0.32,"y":2.14},{"c":"TS","x":-0.2,"y":2.19},{"c":"TS","x":-0.1,"y":2.17},{"c":"TS","x":-0.02,"y":2.14},{"c":"TS","x":-0.88,"y":2.09},{"c":"TS","x":-0.78,"y":2.07},{"c":"TS","x":-0.71,"y":2.08},{"c":"TS","x":-0.61,"y":2.09},{"c":"TS","x":-0.44,"y":2.1},{"c":"TS","x":-0.34,"y":2.07},{"c":"TS","x":-0.24,"y":2.08},{"c":"TS","x":-0.15,"y":2.05},{"c":"TS","x":-0.05,"y":2.07},{"c":"TS","x":-0.9,"y":2.0},{"c":"TS","x":-0.8,"y":1.95},{"c":"TS","x":-0.71,"y":1.97},{"c":"TS","x":-0.59,"y":1.92},{"c":"TS","x":-0.49,"y":1.95},{"c":"TS","x":-0.39,"y":1.95},{"c":"TS","x":-0.27,"y":1.96},{"c":"TS","x":-0.17,"y":1.9},{"c":"TS","x":-0.07,"y":1.92},{"c":"TS","x":-0.85,"y":1.87},{"c":"TS","x":-0.76,"y":1.82},{"c":"TS","x":-0.66,"y":1.85},{"c":"TS","x":-0.56,"y":1.82},{"c":"TS","x":-0.44,"y":1.85},{"c":"TS","x":-0.34,"y":1.8},{"c":"TS","x":-0.22,"y":1.85},{"c":"TS","x":-0.12,"y":1.8},{"c":"TS","x":-0.02,"y":1.85},{"c":"TS","x":-0.88,"y":1.73},{"c":"TS","x":-0.73,"y":1.75},{"c":"TS","x":-0.63,"y":1.73},{"c":"TS","x":-0.46,"y":1.75},{"c":"TS","x":-0.37,"y":1.7},{"c":"TS","x":-0.27,"y":1.74},{"c":"TS","x":-0.2,"y":1.7},{"c":"TS","x":-0.05,"y":1.75},
{"c":"TS","x":0.05,"y":2.43},{"c":"TS","x":0.12,"y":2.47},{"c":"TS","x":0.22,"y":2.42},{"c":"TS","x":0.32,"y":2.48},{"c":"TS","x":0.42,"y":2.41},{"c":"TS","x":0.59,"y":2.46},{"c":"TS","x":0.68,"y":2.48},{"c":"TS","x":0.78,"y":2.45},{"c":"TS","x":0.85,"y":2.43},{"c":"TS","x":0.07,"y":2.29},{"c":"TS","x":0.17,"y":2.3},{"c":"TS","x":0.24,"y":2.29},{"c":"TS","x":0.37,"y":2.34},{"c":"TS","x":0.49,"y":2.36},{"c":"TS","x":0.63,"y":2.31},{"c":"TS","x":0.73,"y":2.31},{"c":"TS","x":0.8,"y":2.26},{"c":"TS","x":0.9,"y":2.34},{"c":"TS","x":0.1,"y":2.17},{"c":"TS","x":0.22,"y":2.14},{"c":"TS","x":0.32,"y":2.17},{"c":"TS","x":0.43,"y":2.14},{"c":"TS","x":0.49,"y":2.2},{"c":"TS","x":0.59,"y":2.12},{"c":"TS","x":0.68,"y":2.18},{"c":"TS","x":0.78,"y":2.21},{"c":"TS","x":0.9,"y":2.09},{"c":"TS","x":0.05,"y":2.02},{"c":"TS","x":0.15,"y":2.04},{"c":"TS","x":0.24,"y":2.07},{"c":"TS","x":0.37,"y":2.0},{"c":"TS","x":0.51,"y":2.02},{"c":"TS","x":0.63,"y":2.02},{"c":"TS","x":0.73,"y":2.07},{"c":"TS","x":0.85,"y":2.02},{"c":"TS","x":0.9,"y":1.98},{"c":"TS","x":0.07,"y":1.92},{"c":"TS","x":0.2,"y":1.92},{"c":"TS","x":0.29,"y":1.9},{"c":"TS","x":0.41,"y":1.96},{"c":"TS","x":0.49,"y":1.9},{"c":"TS","x":0.66,"y":1.92},{"c":"TS","x":0.76,"y":1.95},{"c":"TS","x":0.88,"y":1.9},{"c":"TS","x":0.05,"y":1.8},{"c":"TS","x":0.15,"y":1.75},{"c":"TS","x":0.24,"y":1.8},{"c":"TS","x":0.34,"y":1.78},{"c":"TS","x":0.44,"y":1.81},{"c":"TS","x":0.54,"y":1.78},{"c":"TS","x":0.61,"y":1.8},{"c":"TS","x":0.73,"y":1.75},{"c":"TS","x":0.83,"y":1.81},{"c":"TS","x":0.07,"y":1.7},{"c":"TS","x":0.29,"y":1.73},{"c":"TS","x":0.41,"y":1.7},{"c":"TS","x":0.51,"y":1.73},{"c":"TS","x":0.8,"y":1.7},
{"c":"TS","x":-0.92,"y":3.3},{"c":"TS","x":-0.86,"y":3.19},{"c":"TS","x":-0.71,"y":3.31},{"c":"TS","x":-0.52,"y":3.27},{"c":"TS","x":-0.45,"y":3.23},{"c":"TS","x":-0.27,"y":3.27},{"c":"TS","x":-0.22,"y":3.21},{"c":"TS","x":-0.07,"y":3.31},{"c":"TS","x":0.02,"y":3.18},{"c":"TS","x":0.1,"y":3.25},{"c":"TS","x":0.2,"y":3.2},{"c":"TS","x":0.28,"y":3.18},{"c":"TS","x":0.37,"y":3.22},{"c":"TS","x":0.52,"y":3.3},{"c":"TS","x":0.62,"y":3.2},{"c":"TS","x":0.67,"y":3.28},{"c":"TS","x":0.85,"y":3.31},{"c":"TS","x":0.92,"y":3.18},{"c":"TS","x":-0.92,"y":3.0},{"c":"TS","x":-0.8,"y":3.02},{"c":"TS","x":-0.69,"y":3.08},{"c":"TS","x":-0.48,"y":3.0},{"c":"TS","x":-0.29,"y":3.07},{"c":"TS","x":-0.19,"y":2.98},{"c":"TS","x":-0.09,"y":3.06},{"c":"TS","x":0.0,"y":3.07},{"c":"TS","x":0.08,"y":2.99},{"c":"TS","x":0.19,"y":3.07},{"c":"TS","x":0.27,"y":3.0},{"c":"TS","x":0.46,"y":3.1},{"c":"TS","x":0.56,"y":3.02},{"c":"TS","x":0.66,"y":3.07},{"c":"TS","x":0.77,"y":3.03},{"c":"TS","x":0.88,"y":3.08},{"c":"TS","x":-0.93,"y":2.77},{"c":"TS","x":-0.82,"y":2.89},{"c":"TS","x":-0.7,"y":2.86},{"c":"TS","x":-0.6,"y":2.96},{"c":"TS","x":-0.47,"y":2.88},{"c":"TS","x":-0.37,"y":2.92},{"c":"TS","x":-0.28,"y":2.78},{"c":"TS","x":-0.14,"y":2.86},{"c":"TS","x":-0.04,"y":2.77},{"c":"TS","x":0.07,"y":2.89},{"c":"TS","x":0.18,"y":2.85},{"c":"TS","x":0.27,"y":2.77},{"c":"TS","x":0.4,"y":2.88},{"c":"TS","x":0.5,"y":2.9},{"c":"TS","x":0.59,"y":2.79},{"c":"TS","x":0.68,"y":2.9},{"c":"TS","x":0.78,"y":2.77},{"c":"TS","x":0.9,"y":2.92},{"c":"TS","x":-0.89,"y":2.56},{"c":"TS","x":-0.77,"y":2.66},{"c":"TS","x":-0.6,"y":2.68},{"c":"TS","x":-0.5,"y":2.64},{"c":"TS","x":-0.4,"y":2.7},{"c":"TS","x":-0.28,"y":2.66},{"c":"TS","x":-0.16,"y":2.67},{"c":"TS","x":-0.06,"y":2.62},{"c":"TS","x":0.02,"y":2.66},{"c":"TS","x":0.11,"y":2.73},{"c":"TS","x":0.23,"y":2.66},{"c":"TS","x":0.35,"y":2.74},{"c":"TS","x":0.45,"y":2.63},{"c":"TS","x":0.55,"y":2.56},{"c":"TS","x":0.66,"y":2.62},{"c":"TS","x":0.76,"y":2.68},{"c":"TS","x":0.87,"y":2.62},{"c":"TS","x":-0.84,"y":2.42},{"c":"TS","x":-0.71,"y":2.46},{"c":"TS","x":-0.6,"y":2.4},{"c":"TS","x":-0.47,"y":2.44},{"c":"TS","x":-0.35,"y":2.38},{"c":"TS","x":-0.24,"y":2.45},{"c":"TS","x":-0.13,"y":2.35},{"c":"TS","x":0.0,"y":2.38},{"c":"TS","x":0.11,"y":2.36},{"c":"TS","x":0.2,"y":2.47},{"c":"TS","x":0.27,"y":2.39},{"c":"TS","x":0.46,"y":2.45},{"c":"TS","x":0.54,"y":2.39},{"c":"TS","x":0.63,"y":2.43},{"c":"TS","x":0.76,"y":2.37},{"c":"TS","x":0.91,"y":2.45},{"c":"TS","x":-0.91,"y":2.27},{"c":"TS","x":-0.76,"y":2.22},{"c":"TS","x":-0.64,"y":2.27},{"c":"TS","x":-0.55,"y":2.15},{"c":"TS","x":-0.44,"y":2.25},{"c":"TS","x":-0.27,"y":2.2},{"c":"TS","x":-0.16,"y":2.26},{"c":"TS","x":-0.05,"y":2.2},{"c":"TS","x":0.04,"y":2.25},{"c":"TS","x":0.14,"y":2.2},{"c":"TS","x":0.25,"y":2.22},{"c":"TS","x":0.39,"y":2.26},{"c":"TS","x":0.55,"y":2.27},{"c":"TS","x":0.59,"y":2.2},{"c":"TS","x":0.71,"y":2.24},{"c":"TS","x":0.86,"y":2.18},{"c":"TS","x":-0.83,"y":2.04},{"c":"TS","x":-0.74,"y":2.12},{"c":"TS","x":-0.65,"y":2.02},{"c":"TS","x":-0.5,"y":2.06},{"c":"TS","x":-0.39,"y":2.02},{"c":"TS","x":-0.29,"y":2.1},{"c":"TS","x":-0.2,"y":2.0},{"c":"TS","x":-0.1,"y":2.08},{"c":"TS","x":0.01,"y":2.1},{"c":"TS","x":0.11,"y":1.97},{"c":"TS","x":0.2,"y":2.0},{"c":"TS","x":0.3,"y":2.05},{"c":"TS","x":0.45,"y":2.07},{"c":"TS","x":0.57,"y":1.98},{"c":"TS","x":0.68,"y":2.06},{"c":"TS","x":0.8,"y":2.1},{"c":"TS","x":0.93,"y":2.13},{"c":"TS","x":-0.93,"y":1.81},{"c":"TS","x":-0.8,"y":1.86},{"c":"TS","x":-0.62,"y":1.95},{"c":"TS","x":-0.51,"y":1.88},{"c":"TS","x":-0.42,"y":1.79},{"c":"TS","x":-0.31,"y":1.9},{"c":"TS","x":-0.22,"y":1.78},{"c":"TS","x":-0.11,"y":1.87},{"c":"TS","x":0.0,"y":1.9},{"c":"TS","x":0.1,"y":1.85},{"c":"TS","x":0.22,"y":1.86},{"c":"TS","x":0.33,"y":1.82},{"c":"TS","x":0.44,"y":1.88},{"c":"TS","x":0.57,"y":1.84},{"c":"TS","x":0.68,"y":1.78},{"c":"TS","x":0.79,"y":1.88},{"c":"TS","x":0.92,"y":1.8},{"c":"TS","x":-0.82,"y":1.68},{"c":"TS","x":-0.57,"y":1.74},{"c":"TS","x":-0.42,"y":1.68},{"c":"TS","x":-0.31,"y":1.76},{"c":"TS","x":-0.1,"y":1.68},{"c":"TS","x":0.0,"y":1.77},{"c":"TS","x":0.11,"y":1.69},{"c":"TS","x":0.21,"y":1.67},{"c":"TS","x":0.37,"y":1.76},{"c":"TS","x":0.46,"y":1.68},{"c":"TS","x":0.67,"y":1.69},{"c":"TS","x":0.9,"y":1.68},
{"c":"TB","x":-1.68,"y":4.39},{"c":"TB","x":-1.26,"y":4.38},{"c":"TB","x":-1.15,"y":4.38},{"c":"TB","x":-0.79,"y":4.35},{"c":"TB","x":-0.57,"y":4.39},{"c":"TB","x":-0.54,"y":4.37},{"c":"TB","x":-0.22,"y":4.31},{"c":"TB","x":-0.07,"y":4.39},{"c":"TB","x":-1.7,"y":4.31},{"c":"TB","x":-1.38,"y":4.3},{"c":"TB","x":-1.36,"y":4.26},{"c":"TB","x":-1.0,"y":4.32},{"c":"TB","x":-0.98,"y":4.34},{"c":"TB","x":-1.77,"y":4.1},{"c":"TB","x":-1.57,"y":4.13},{"c":"TB","x":-1.34,"y":4.21},{"c":"TB","x":-1.25,"y":4.09},{"c":"TB","x":-1.18,"y":4.1},{"c":"TB","x":-1.13,"y":4.14},{"c":"TB","x":-1.06,"y":4.17},{"c":"TB","x":-1.02,"y":4.18},{"c":"TB","x":-0.82,"y":4.18},{"c":"TB","x":-0.76,"y":4.14},{"c":"TB","x":-0.66,"y":4.2},{"c":"TB","x":-0.37,"y":4.23},{"c":"TB","x":-0.32,"y":4.17},{"c":"TB","x":-0.12,"y":4.23},{"c":"TB","x":-0.04,"y":4.28},{"c":"TB","x":-0.5,"y":4.12},{"c":"TB","x":-1.66,"y":3.93},{"c":"TB","x":-1.6,"y":3.92},{"c":"TB","x":-1.52,"y":3.88},{"c":"TB","x":-1.44,"y":3.9},{"c":"TB","x":-1.24,"y":4.01},{"c":"TB","x":-1.0,"y":4.03},{"c":"TB","x":-1.02,"y":3.97},{"c":"TB","x":-0.88,"y":3.97},{"c":"TB","x":-0.77,"y":4.07},{"c":"TB","x":-0.75,"y":4.02},{"c":"TB","x":-0.51,"y":4.04},{"c":"TB","x":-0.5,"y":3.97},{"c":"TB","x":-0.37,"y":3.95},{"c":"TB","x":-0.27,"y":3.89},{"c":"TB","x":-0.21,"y":3.91},{"c":"TB","x":-0.09,"y":4.02},{"c":"TB","x":-0.03,"y":3.96},{"c":"TB","x":-0.03,"y":3.86},{"c":"TB","x":-1.85,"y":3.77},{"c":"TB","x":-1.59,"y":3.68},{"c":"TB","x":-1.32,"y":3.76},{"c":"TB","x":-1.2,"y":3.8},{"c":"TB","x":-1.13,"y":3.78},{"c":"TB","x":-1.1,"y":3.9},{"c":"TB","x":-1.03,"y":3.91},{"c":"TB","x":-0.98,"y":3.91},{"c":"TB","x":-0.89,"y":3.79},{"c":"TB","x":-0.83,"y":3.85},{"c":"TB","x":-0.76,"y":3.9},{"c":"TB","x":-0.68,"y":3.76},{"c":"TB","x":-0.63,"y":3.89},{"c":"TB","x":-0.55,"y":3.85},{"c":"TB","x":-0.46,"y":3.75},{"c":"TB","x":-0.43,"y":3.83},{"c":"TB","x":-0.36,"y":3.83},{"c":"TB","x":-0.29,"y":3.76},{"c":"TB","x":-0.23,"y":3.73},{"c":"TB","x":-0.15,"y":3.89},{"c":"TB","x":-0.1,"y":3.84},{"c":"TB","x":-0.02,"y":3.78},{"c":"TB","x":-1.42,"y":3.68},{"c":"TB","x":-1.31,"y":3.82},{"c":"TB","x":-1.74,"y":3.58},{"c":"TB","x":-1.52,"y":3.57},{"c":"TB","x":-1.43,"y":3.63},{"c":"TB","x":-1.35,"y":3.56},{"c":"TB","x":-1.27,"y":3.58},{"c":"TB","x":-1.17,"y":3.69},{"c":"TB","x":-1.15,"y":3.55},{"c":"TB","x":-1.07,"y":3.58},{"c":"TB","x":-0.9,"y":3.7},{"c":"TB","x":-0.9,"y":3.58},{"c":"TB","x":-0.82,"y":3.7},{"c":"TB","x":-0.76,"y":3.67},{"c":"TB","x":-0.63,"y":3.7},{"c":"TB","x":-0.54,"y":3.62},{"c":"TB","x":-0.44,"y":3.65},{"c":"TB","x":-0.36,"y":3.6},{"c":"TB","x":-0.29,"y":3.64},{"c":"TB","x":-0.22,"y":3.69},{"c":"TB","x":-0.17,"y":3.58},{"c":"TB","x":-0.09,"y":3.56},{"c":"TB","x":-0.04,"y":3.6},{"c":"TB","x":-0.49,"y":3.58},{"c":"TB","x":-1.87,"y":3.41},{"c":"TB","x":-1.74,"y":3.4},{"c":"TB","x":-1.57,"y":3.4},{"c":"TB","x":-1.38,"y":3.45},{"c":"TB","x":-1.35,"y":3.41},{"c":"TB","x":-1.27,"y":3.41},{"c":"TB","x":-1.18,"y":3.34},{"c":"TB","x":-1.06,"y":3.36},{"c":"TB","x":-0.98,"y":3.4},{"c":"TB","x":-0.96,"y":3.52},{"c":"TB","x":-0.83,"y":3.53},{"c":"TB","x":-0.71,"y":3.43},{"c":"TB","x":-0.59,"y":3.39},{"c":"TB","x":-0.51,"y":3.48},{"c":"TB","x":-0.49,"y":3.41},{"c":"TB","x":-0.37,"y":3.45},{"c":"TB","x":-0.27,"y":3.53},{"c":"TB","x":-0.22,"y":3.48},{"c":"TB","x":-0.05,"y":3.41},{"c":"TB","x":-0.09,"y":3.53},{"c":"TB","x":-0.34,"y":3.36},{"c":"TB","x":-1.35,"y":3.34},{"c":"TB","x":-1.73,"y":3.29},{"c":"TB","x":-1.66,"y":3.27},{"c":"TB","x":-1.62,"y":3.15},{"c":"TB","x":-1.45,"y":3.26},{"c":"TB","x":-1.39,"y":3.19},{"c":"TB","x":-1.35,"y":3.23},{"c":"TB","x":-1.24,"y":3.26},{"c":"TB","x":-1.17,"y":3.28},{"c":"TB","x":-1.1,"y":3.24},{"c":"TB","x":-1.04,"y":3.26},{"c":"TB","x":-1.33,"y":3.13},{"c":"TB","x":-1.79,"y":3.12},{"c":"TB","x":-1.52,"y":3.12},{"c":"TB","x":-1.82,"y":3.08},{"c":"TB","x":-1.83,"y":2.97},{"c":"TB","x":-1.66,"y":3.07},{"c":"TB","x":-1.6,"y":3.03},{"c":"TB","x":-1.51,"y":3.03},{"c":"TB","x":-1.42,"y":3.05},{"c":"TB","x":-1.46,"y":2.95},{"c":"TB","x":-1.32,"y":2.97},{"c":"TB","x":-1.22,"y":3.08},{"c":"TB","x":-1.18,"y":3.19},{"c":"TB","x":-1.13,"y":3.14},{"c":"TB","x":-1.85,"y":2.85},{"c":"TB","x":-1.76,"y":2.92},{"c":"TB","x":-1.71,"y":2.88},{"c":"TB","x":-1.65,"y":2.85},{"c":"TB","x":-1.59,"y":2.87},{"c":"TB","x":-1.46,"y":2.85},{"c":"TB","x":-1.39,"y":2.9},{"c":"TB","x":-1.37,"y":2.82},{"c":"TB","x":-1.27,"y":2.9},{"c":"TB","x":-1.24,"y":2.8},{"c":"TB","x":-1.8,"y":2.71},{"c":"TB","x":-1.71,"y":2.67},{"c":"TB","x":-1.67,"y":2.73},{"c":"TB","x":-1.59,"y":2.71},{"c":"TB","x":-1.49,"y":2.73},{"c":"TB","x":-1.43,"y":2.68},{"c":"TB","x":-1.33,"y":2.7},{"c":"TB","x":-1.29,"y":2.62},{"c":"TB","x":-1.87,"y":2.62},{"c":"TB","x":-1.77,"y":2.58},{"c":"TB","x":-1.66,"y":2.57},{"c":"TB","x":-1.56,"y":2.59},{"c":"TB","x":-1.5,"y":2.56},{"c":"TB","x":-1.39,"y":2.58},{"c":"TB","x":-1.22,"y":2.7},{"c":"TB","x":-1.17,"y":2.59},{"c":"TB","x":-1.05,"y":2.64},
{"c":"TB","x":-1.85,"y":4.22},{"c":"TB","x":-1.62,"y":4.3},{"c":"TB","x":-1.47,"y":4.2},{"c":"TB","x":-1.52,"y":4.05},{"c":"TB","x":-1.85,"y":3.98},{"c":"TB","x":-1.72,"y":3.85},{"c":"TB","x":-1.38,"y":3.98},{"c":"TB","x":-1.18,"y":4.27},{"c":"TB","x":-0.9,"y":4.28},{"c":"TB","x":-0.68,"y":4.3},{"c":"TB","x":-0.42,"y":4.33},{"c":"TB","x":-0.3,"y":4.06},{"c":"TB","x":-0.62,"y":3.98},{"c":"TB","x":-0.16,"y":4.13},{"c":"TB","x":-1.88,"y":3.6},{"c":"TB","x":-1.62,"y":3.8},{"c":"TB","x":-1.47,"y":3.72},{"c":"TB","x":-1.1,"y":3.63},{"c":"TB","x":-0.98,"y":3.79},{"c":"TB","x":-0.71,"y":3.55},{"c":"TB","x":-0.6,"y":3.8},{"c":"TB","x":-0.14,"y":3.66},{"c":"TB","x":-1.65,"y":3.47},{"c":"TB","x":-1.47,"y":3.5},{"c":"TB","x":-1.22,"y":3.48},{"c":"TB","x":-0.82,"y":3.44},{"c":"TB","x":-0.42,"y":3.52},{"c":"TB","x":-0.63,"y":3.47},{"c":"TB","x":-1.85,"y":4.38},{"c":"TB","x":-1.44,"y":4.37},{"c":"TB","x":-0.33,"y":4.4},{"c":"TB","x":-0.15,"y":3.97},{"c":"TB","x":-1.88,"y":3.3},{"c":"TB","x":-1.6,"y":3.35},{"c":"TB","x":-1.5,"y":3.2},{"c":"TB","x":-1.27,"y":3.16},{"c":"TB","x":-1.7,"y":3.18},{"c":"TB","x":-1.9,"y":3.18},{"c":"TB","x":-1.56,"y":2.95},{"c":"TB","x":-1.75,"y":2.78},{"c":"TB","x":-1.88,"y":2.72},{"c":"TB","x":-1.62,"y":2.64},{"c":"TB","x":-1.45,"y":2.6},{"c":"TB","x":-1.55,"y":2.8},{"c":"TB","x":-1.3,"y":2.85},{"c":"TB","x":-1.33,"y":3.04},{"c":"TB","x":-1.25,"y":2.73},{"c":"TB","x":-1.18,"y":2.87},{"c":"TB","x":-1.08,"y":3.34},{"c":"TB","x":-1.16,"y":3.05},
{"c":"TB","x":0.15,"y":4.37},{"c":"TB","x":0.3,"y":4.39},{"c":"TB","x":0.1,"y":4.3},{"c":"TB","x":0.17,"y":4.24},{"c":"TB","x":0.02,"y":4.23},{"c":"TB","x":0.04,"y":4.09},{"c":"TB","x":0.21,"y":4.02},{"c":"TB","x":0.11,"y":3.82},{"c":"TB","x":0.02,"y":3.73},{"c":"TB","x":0.13,"y":3.72},{"c":"TB","x":0.2,"y":3.65},{"c":"TB","x":0.27,"y":3.53},{"c":"TB","x":0.34,"y":3.59},{"c":"TB","x":0.48,"y":3.49},{"c":"TB","x":0.51,"y":3.53},{"c":"TB","x":0.62,"y":3.41},{"c":"TB","x":0.85,"y":3.43},{"c":"TB","x":0.98,"y":3.52},{"c":"TB","x":1.12,"y":3.56},{"c":"TB","x":1.22,"y":3.45},{"c":"TB","x":1.32,"y":3.47},{"c":"TB","x":1.37,"y":3.56},{"c":"TB","x":1.59,"y":3.54},{"c":"TB","x":1.51,"y":3.29},{"c":"TB","x":1.46,"y":3.3},{"c":"TB","x":1.1,"y":3.3},{"c":"TB","x":1.17,"y":3.26},{"c":"TB","x":1.27,"y":3.19},{"c":"TB","x":1.37,"y":3.15},{"c":"TB","x":1.29,"y":3.1},{"c":"TB","x":1.23,"y":3.08},{"c":"TB","x":1.2,"y":2.97},{"c":"TB","x":1.27,"y":3.02},{"c":"TB","x":1.13,"y":3.0},{"c":"TB","x":1.56,"y":3.01},{"c":"TB","x":1.71,"y":3.19},{"c":"TB","x":1.8,"y":3.13},{"c":"TB","x":1.85,"y":2.9},{"c":"TB","x":1.34,"y":2.87},{"c":"TB","x":1.44,"y":2.9},{"c":"TB","x":1.56,"y":2.78},{"c":"TB","x":1.33,"y":2.73},{"c":"TB","x":1.48,"y":2.7},{"c":"TB","x":1.68,"y":2.6},{"c":"TB","x":1.79,"y":2.68},{"c":"TB","x":1.28,"y":2.6},{"c":"TB","x":1.38,"y":2.65},{"c":"TB","x":1.44,"y":2.58},{"c":"TB","x":1.22,"y":2.56},{"c":"TB","x":1.87,"y":4.06},{"c":"TB","x":0.44,"y":4.06},{"c":"TB","x":0.52,"y":4.17},{"c":"TB","x":0.73,"y":3.65},{"c":"TB","x":1.37,"y":3.96},{"c":"TB","x":1.74,"y":3.68},{"c":"TB","x":0.37,"y":3.68},{"c":"TB","x":1.7,"y":3.35},{"c":"TB","x":1.85,"y":3.45},{"c":"TB","x":1.62,"y":2.95},{"c":"TB","x":1.05,"y":3.4},{"c":"TB","x":1.15,"y":3.12},
{"c":"TB","x":0.05,"y":3.95},{"c":"TB","x":0.25,"y":3.9},{"c":"TB","x":0.35,"y":4.3},{"c":"TB","x":0.6,"y":3.6},{"c":"TB","x":0.8,"y":3.75},{"c":"TB","x":0.95,"y":3.62},{"c":"TB","x":1.1,"y":3.7},{"c":"TB","x":1.28,"y":3.62},{"c":"TB","x":1.45,"y":3.66},{"c":"TB","x":1.62,"y":3.75},{"c":"TB","x":1.8,"y":3.55},{"c":"TB","x":1.5,"y":3.45},{"c":"TB","x":0.7,"y":3.45},{"c":"TB","x":0.4,"y":3.58},{"c":"TB","x":0.9,"y":4.2},{"c":"TB","x":1.2,"y":4.3},{"c":"TB","x":1.6,"y":4.35},{"c":"TB","x":1.85,"y":4.3},{"c":"TB","x":1.1,"y":4.0},{"c":"TB","x":1.25,"y":3.35},{"c":"TB","x":1.58,"y":3.2},{"c":"TB","x":1.88,"y":3.2},{"c":"TB","x":1.65,"y":3.08},{"c":"TB","x":1.4,"y":3.0},{"c":"TB","x":1.75,"y":2.9},{"c":"TB","x":1.6,"y":2.68},{"c":"TB","x":1.88,"y":2.55},{"c":"TB","x":1.45,"y":2.4},{"c":"TB","x":1.25,"y":2.25},{"c":"TB","x":1.65,"y":2.2},{"c":"TB","x":1.86,"y":2.12},{"c":"TB","x":1.3,"y":2.0},{"c":"TB","x":1.52,"y":1.95},{"c":"TB","x":1.72,"y":1.78},{"c":"TB","x":1.88,"y":1.72},{"c":"TB","x":1.35,"y":1.6},{"c":"TB","x":1.55,"y":1.58},{"c":"TB","x":1.85,"y":1.58},{"c":"TB","x":1.2,"y":1.47},
{"c":"TB","x":-1.83,"y":2.41},{"c":"TB","x":-1.73,"y":2.43},{"c":"TB","x":-1.59,"y":2.45},{"c":"TB","x":-1.85,"y":2.28},{"c":"TB","x":-1.76,"y":2.24},{"c":"TB","x":-1.56,"y":2.31},{"c":"TB","x":-1.63,"y":2.23},{"c":"TB","x":-1.84,"y":2.14},{"c":"TB","x":-1.74,"y":2.12},{"c":"TB","x":-1.59,"y":2.1},{"c":"TB","x":-1.85,"y":2.02},{"c":"TB","x":-1.73,"y":2.02},{"c":"TB","x":-1.54,"y":2.0},{"c":"TB","x":-1.8,"y":1.92},{"c":"TB","x":-1.63,"y":1.9},{"c":"TB","x":-1.46,"y":1.95},{"c":"TB","x":-1.85,"y":1.82},{"c":"TB","x":-1.73,"y":1.84},{"c":"TB","x":-1.51,"y":1.84},{"c":"TB","x":-1.83,"y":1.73},{"c":"TB","x":-1.71,"y":1.7},{"c":"TB","x":-1.59,"y":1.7},{"c":"TB","x":-1.45,"y":1.69},{"c":"TB","x":-1.85,"y":1.65},{"c":"TB","x":-1.76,"y":1.59},{"c":"TB","x":-1.63,"y":1.6},{"c":"TB","x":-1.52,"y":1.56},{"c":"TB","x":-1.37,"y":1.78},{"c":"TB","x":-1.29,"y":1.87},{"c":"TB","x":-1.85,"y":1.53},{"c":"TB","x":-1.71,"y":1.48},{"c":"TB","x":-1.6,"y":1.53},{"c":"TB","x":-1.85,"y":1.43},{"c":"TB","x":-1.76,"y":1.4},{"c":"TB","x":-1.61,"y":1.42},{"c":"TB","x":-1.51,"y":1.43},{"c":"TB","x":-1.39,"y":1.39},{"c":"TB","x":-1.32,"y":1.48},{"c":"TB","x":-1.12,"y":1.48},{"c":"TB","x":-1.07,"y":1.41},{"c":"TB","x":-1.83,"y":1.31},{"c":"TB","x":-1.71,"y":1.3},{"c":"TB","x":-1.59,"y":1.34},{"c":"TB","x":-1.49,"y":1.29},{"c":"TB","x":-1.37,"y":1.31},{"c":"TB","x":-1.24,"y":1.34},{"c":"TB","x":-1.17,"y":1.29},{"c":"TB","x":-1.05,"y":1.34},{"c":"TB","x":-0.93,"y":1.36},{"c":"TB","x":-0.8,"y":1.34},{"c":"TB","x":-0.73,"y":1.29},{"c":"TB","x":-0.54,"y":1.41},{"c":"TB","x":-0.44,"y":1.36},{"c":"TB","x":-0.29,"y":1.36},{"c":"TB","x":-0.2,"y":1.34},{"c":"TB","x":-1.85,"y":1.19},{"c":"TB","x":-1.73,"y":1.19},{"c":"TB","x":-1.63,"y":1.21},{"c":"TB","x":-1.54,"y":1.24},{"c":"TB","x":-1.44,"y":1.18},{"c":"TB","x":-1.32,"y":1.2},{"c":"TB","x":-1.2,"y":1.19},{"c":"TB","x":-1.1,"y":1.23},{"c":"TB","x":-0.98,"y":1.2},{"c":"TB","x":-0.85,"y":1.21},{"c":"TB","x":-0.78,"y":1.24},{"c":"TB","x":-0.66,"y":1.19},{"c":"TB","x":-0.56,"y":1.17},{"c":"TB","x":-0.46,"y":1.24},{"c":"TB","x":-0.34,"y":1.19},{"c":"TB","x":-0.22,"y":1.21},{"c":"TB","x":-0.15,"y":1.26},{"c":"TB","x":-0.02,"y":1.19},{"c":"TB","x":-1.83,"y":1.07},{"c":"TB","x":-1.71,"y":1.04},{"c":"TB","x":-1.59,"y":1.12},{"c":"TB","x":-1.49,"y":1.07},{"c":"TB","x":-1.39,"y":1.09},{"c":"TB","x":-1.27,"y":1.04},{"c":"TB","x":-1.17,"y":1.09},{"c":"TB","x":-1.05,"y":1.12},{"c":"TB","x":-0.93,"y":1.07},{"c":"TB","x":-0.83,"y":1.12},{"c":"TB","x":-0.68,"y":1.09},{"c":"TB","x":-0.59,"y":1.04},{"c":"TB","x":-0.46,"y":1.12},{"c":"TB","x":-0.37,"y":1.09},{"c":"TB","x":-0.22,"y":1.07},{"c":"TB","x":-0.1,"y":1.04},{"c":"TB","x":-0.02,"y":1.09},{"c":"TB","x":-1.85,"y":0.97},{"c":"TB","x":-1.76,"y":0.95},{"c":"TB","x":-1.63,"y":0.92},{"c":"TB","x":-1.46,"y":0.95},{"c":"TB","x":-1.37,"y":1.0},{"c":"TB","x":-1.24,"y":0.95},{"c":"TB","x":-1.15,"y":0.97},{"c":"TB","x":-1.02,"y":1.0},{"c":"TB","x":-0.9,"y":0.95},{"c":"TB","x":-0.78,"y":0.97},{"c":"TB","x":-0.63,"y":0.95},{"c":"TB","x":-0.51,"y":1.0},{"c":"TB","x":-0.41,"y":0.95},{"c":"TB","x":-0.29,"y":0.97},{"c":"TB","x":-0.17,"y":1.0},{"c":"TB","x":-0.05,"y":0.95},{"c":"TB","x":-1.8,"y":0.82},{"c":"TB","x":-1.68,"y":0.82},{"c":"TB","x":-1.56,"y":0.85},{"c":"TB","x":-1.44,"y":0.8},{"c":"TB","x":-1.32,"y":0.87},{"c":"TB","x":-1.2,"y":0.82},{"c":"TB","x":-1.07,"y":0.78},{"c":"TB","x":-0.95,"y":0.85},{"c":"TB","x":-0.83,"y":0.82},{"c":"TB","x":-0.73,"y":0.9},{"c":"TB","x":-0.61,"y":0.82},{"c":"TB","x":-0.49,"y":0.8},{"c":"TB","x":-0.37,"y":0.85},{"c":"TB","x":-0.24,"y":0.8},{"c":"TB","x":-0.15,"y":0.82},{"c":"TB","x":-0.02,"y":0.8},{"c":"TB","x":-1.85,"y":0.7},{"c":"TB","x":-1.73,"y":0.7},{"c":"TB","x":-1.61,"y":0.75},{"c":"TB","x":-1.51,"y":0.68},{"c":"TB","x":-1.39,"y":0.73},{"c":"TB","x":-1.27,"y":0.68},{"c":"TB","x":-1.12,"y":0.7},{"c":"TB","x":-1.0,"y":0.7},{"c":"TB","x":-0.88,"y":0.73},{"c":"TB","x":-0.76,"y":0.68},{"c":"TB","x":-0.63,"y":0.75},{"c":"TB","x":-0.54,"y":0.68},{"c":"TB","x":-0.44,"y":0.78},{"c":"TB","x":-0.32,"y":0.7},{"c":"TB","x":-0.2,"y":0.73},{"c":"TB","x":-0.07,"y":0.68},{"c":"TB","x":-1.83,"y":0.61},{"c":"TB","x":-1.61,"y":0.62},{"c":"TB","x":-1.41,"y":0.61},{"c":"TB","x":-1.22,"y":0.62},{"c":"TB","x":-1.07,"y":0.61},{"c":"TB","x":-0.93,"y":0.62},{"c":"TB","x":-0.73,"y":0.61},{"c":"TB","x":-0.54,"y":0.61},{"c":"TB","x":-0.34,"y":0.62},{"c":"TB","x":-0.2,"y":0.61},
{"c":"TB","x":-1.78,"y":2.36},{"c":"TB","x":-1.66,"y":2.37},{"c":"TB","x":-1.68,"y":2.17},{"c":"TB","x":-1.8,"y":2.06},{"c":"TB","x":-1.62,"y":2.03},{"c":"TB","x":-1.69,"y":1.96},{"c":"TB","x":-1.57,"y":1.88},{"c":"TB","x":-1.78,"y":1.77},{"c":"TB","x":-1.66,"y":1.76},{"c":"TB","x":-1.56,"y":1.64},{"c":"TB","x":-1.69,"y":1.55},{"c":"TB","x":-1.79,"y":1.47},{"c":"TB","x":-1.65,"y":1.46},{"c":"TB","x":-1.55,"y":1.36},{"c":"TB","x":-1.45,"y":1.47},{"c":"TB","x":-1.28,"y":1.41},{"c":"TB","x":-1.18,"y":1.4},{"c":"TB","x":-1.0,"y":1.43},{"c":"TB","x":-0.9,"y":1.29},{"c":"TB","x":-0.65,"y":1.33},{"c":"TB","x":-0.6,"y":1.25},{"c":"TB","x":-0.38,"y":1.3},{"c":"TB","x":-0.25,"y":1.27},{"c":"TB","x":-0.08,"y":1.36},{"c":"TB","x":-1.78,"y":1.25},{"c":"TB","x":-1.67,"y":1.14},{"c":"TB","x":-1.53,"y":1.17},{"c":"TB","x":-1.43,"y":1.04},{"c":"TB","x":-1.31,"y":1.13},{"c":"TB","x":-1.12,"y":1.03},{"c":"TB","x":-0.99,"y":1.1},{"c":"TB","x":-0.88,"y":1.02},{"c":"TB","x":-0.74,"y":1.15},{"c":"TB","x":-0.52,"y":1.08},{"c":"TB","x":-0.3,"y":1.14},{"c":"TB","x":-0.12,"y":1.12},{"c":"TB","x":-1.79,"y":0.89},{"c":"TB","x":-1.66,"y":0.98},{"c":"TB","x":-1.52,"y":0.9},{"c":"TB","x":-1.39,"y":0.92},{"c":"TB","x":-1.28,"y":0.79},{"c":"TB","x":-1.1,"y":0.91},{"c":"TB","x":-0.97,"y":0.77},{"c":"TB","x":-0.86,"y":0.9},{"c":"TB","x":-0.69,"y":0.78},{"c":"TB","x":-0.56,"y":0.9},{"c":"TB","x":-0.43,"y":0.88},{"c":"TB","x":-0.3,"y":0.77},{"c":"TB","x":-0.1,"y":0.88},{"c":"TB","x":-1.7,"y":0.64},{"c":"TB","x":-1.47,"y":0.75},{"c":"TB","x":-1.33,"y":0.64},{"c":"TB","x":-1.17,"y":0.77},{"c":"TB","x":-0.97,"y":0.64},{"c":"TB","x":-0.81,"y":0.64},{"c":"TB","x":-0.6,"y":0.64},{"c":"TB","x":-0.46,"y":0.65},{"c":"TB","x":-0.26,"y":0.66},{"c":"TB","x":-0.11,"y":0.74},{"c":"TB","x":-0.03,"y":0.64},
{"c":"TB","x":-1.75,"y":1.36},{"c":"TB","x":-1.4,"y":1.26},{"c":"TB","x":-1.0,"y":1.27},{"c":"TB","x":-0.7,"y":1.4},{"c":"TB","x":-0.35,"y":1.42},{"c":"TB","x":-0.05,"y":1.26},{"c":"TB","x":0.1,"y":1.12},{"c":"TB","x":0.38,"y":1.13},{"c":"TB","x":0.7,"y":1.28},{"c":"TB","x":0.85,"y":1.35},{"c":"TB","x":1.1,"y":1.45},{"c":"TB","x":1.48,"y":1.2},{"c":"TB","x":1.7,"y":1.18},{"c":"TB","x":1.9,"y":1.3},{"c":"TB","x":-1.88,"y":1.1},{"c":"TB","x":-1.55,"y":1.0},{"c":"TB","x":-1.22,"y":1.1},{"c":"TB","x":-0.95,"y":0.92},{"c":"TB","x":-0.65,"y":1.02},{"c":"TB","x":-0.4,"y":1.02},{"c":"TB","x":-0.15,"y":0.93},{"c":"TB","x":0.2,"y":0.92},{"c":"TB","x":0.5,"y":1.1},{"c":"TB","x":0.72,"y":1.0},{"c":"TB","x":0.95,"y":1.12},{"c":"TB","x":1.2,"y":0.85},{"c":"TB","x":1.6,"y":1.05},{"c":"TB","x":1.9,"y":0.88},{"c":"TB","x":-1.9,"y":0.78},{"c":"TB","x":-1.58,"y":0.78},{"c":"TB","x":-1.22,"y":0.73},{"c":"TB","x":-0.9,"y":0.78},{"c":"TB","x":-0.62,"y":0.7},{"c":"TB","x":-0.35,"y":0.76},{"c":"TB","x":-0.05,"y":0.72},{"c":"TB","x":0.22,"y":0.7},{"c":"TB","x":0.55,"y":0.7},{"c":"TB","x":0.95,"y":0.72},{"c":"TB","x":1.3,"y":0.75},{"c":"TB","x":1.55,"y":0.62},{"c":"TB","x":1.75,"y":0.62},{"c":"TB","x":1.88,"y":0.7},{"c":"TB","x":-1.75,"y":0.62},{"c":"TB","x":-1.5,"y":0.62},{"c":"TB","x":-0.85,"y":0.68},{"c":"TB","x":-0.2,"y":0.66},{"c":"TB","x":0.4,"y":0.62},{"c":"TB","x":0.62,"y":0.65},
{"c":"TB","x":1.09,"y":2.42},{"c":"TB","x":1.22,"y":2.45},{"c":"TB","x":1.29,"y":2.36},{"c":"TB","x":1.38,"y":2.45},{"c":"TB","x":1.54,"y":2.35},{"c":"TB","x":1.54,"y":2.26},{"c":"TB","x":1.71,"y":2.26},{"c":"TB","x":1.76,"y":2.32},{"c":"TB","x":1.77,"y":2.42},{"c":"TB","x":1.88,"y":2.24},{"c":"TB","x":1.04,"y":2.2},{"c":"TB","x":1.24,"y":2.17},{"c":"TB","x":1.33,"y":2.15},{"c":"TB","x":1.45,"y":2.13},{"c":"TB","x":1.46,"y":2.19},{"c":"TB","x":1.61,"y":2.12},{"c":"TB","x":1.71,"y":2.07},{"c":"TB","x":1.4,"y":2.06},{"c":"TB","x":1.15,"y":2.03},{"c":"TB","x":1.39,"y":2.0},{"c":"TB","x":1.51,"y":1.86},{"c":"TB","x":1.44,"y":1.8},{"c":"TB","x":1.27,"y":1.8},{"c":"TB","x":1.34,"y":1.68},{"c":"TB","x":1.44,"y":1.73},{"c":"TB","x":1.51,"y":1.67},{"c":"TB","x":1.62,"y":1.82},{"c":"TB","x":1.71,"y":1.95},{"c":"TB","x":1.8,"y":2.0},{"c":"TB","x":1.17,"y":1.94},{"c":"TB","x":1.27,"y":1.67},{"c":"TB","x":1.07,"y":1.67},{"c":"TB","x":1.46,"y":1.52},{"c":"TB","x":1.27,"y":1.45},{"c":"TB","x":1.33,"y":1.52},{"c":"TB","x":1.16,"y":1.39},{"c":"TB","x":1.2,"y":1.31},{"c":"TB","x":1.28,"y":1.31},{"c":"TB","x":1.27,"y":1.2},{"c":"TB","x":1.4,"y":1.39},{"c":"TB","x":1.34,"y":1.25},{"c":"TB","x":1.46,"y":1.28},{"c":"TB","x":1.61,"y":1.29},{"c":"TB","x":1.71,"y":1.29},{"c":"TB","x":1.8,"y":1.25},{"c":"TB","x":1.66,"y":1.39},{"c":"TB","x":1.12,"y":1.17},{"c":"TB","x":1.17,"y":1.09},{"c":"TB","x":1.13,"y":0.97},{"c":"TB","x":1.27,"y":1.02},{"c":"TB","x":1.42,"y":1.12},{"c":"TB","x":1.52,"y":1.14},{"c":"TB","x":1.73,"y":1.14},{"c":"TB","x":1.73,"y":1.07},{"c":"TB","x":1.8,"y":1.12},{"c":"TB","x":1.39,"y":1.04},{"c":"TB","x":1.56,"y":1.01},{"c":"TB","x":1.66,"y":0.93},{"c":"TB","x":1.76,"y":0.82},{"c":"TB","x":1.82,"y":0.74},{"c":"TB","x":1.46,"y":0.75},{"c":"TB","x":1.61,"y":0.7},{"c":"TB","x":1.32,"y":0.69},{"c":"TB","x":1.27,"y":0.78},{"c":"TB","x":1.15,"y":0.8},{"c":"TB","x":1.05,"y":0.93},{"c":"TB","x":1.0,"y":0.76},{"c":"TB","x":1.04,"y":0.68},{"c":"TB","x":0.07,"y":1.48},{"c":"TB","x":0.2,"y":1.46},{"c":"TB","x":0.27,"y":1.46},{"c":"TB","x":0.44,"y":1.43},{"c":"TB","x":0.56,"y":1.48},{"c":"TB","x":0.63,"y":1.42},{"c":"TB","x":0.73,"y":1.46},{"c":"TB","x":0.83,"y":1.43},{"c":"TB","x":0.93,"y":1.46},{"c":"TB","x":0.05,"y":1.31},{"c":"TB","x":0.17,"y":1.29},{"c":"TB","x":0.32,"y":1.26},{"c":"TB","x":0.46,"y":1.29},{"c":"TB","x":0.56,"y":1.34},{"c":"TB","x":0.66,"y":1.36},{"c":"TB","x":0.73,"y":1.39},{"c":"TB","x":0.85,"y":1.21},{"c":"TB","x":0.93,"y":1.34},{"c":"TB","x":0.02,"y":1.2},{"c":"TB","x":0.12,"y":1.18},{"c":"TB","x":0.22,"y":1.19},{"c":"TB","x":0.32,"y":1.2},{"c":"TB","x":0.41,"y":1.23},{"c":"TB","x":0.51,"y":1.19},{"c":"TB","x":0.61,"y":1.21},{"c":"TB","x":0.7,"y":1.18},{"c":"TB","x":0.8,"y":1.14},{"c":"TB","x":0.11,"y":1.06},{"c":"TB","x":0.24,"y":1.09},{"c":"TB","x":0.34,"y":1.07},{"c":"TB","x":0.44,"y":1.04},{"c":"TB","x":0.56,"y":1.02},{"c":"TB","x":0.63,"y":1.12},{"c":"TB","x":0.78,"y":1.09},{"c":"TB","x":0.88,"y":1.04},{"c":"TB","x":0.05,"y":1.0},{"c":"TB","x":0.17,"y":1.0},{"c":"TB","x":0.27,"y":0.98},{"c":"TB","x":0.39,"y":1.0},{"c":"TB","x":0.54,"y":0.95},{"c":"TB","x":0.63,"y":0.92},{"c":"TB","x":0.73,"y":0.87},{"c":"TB","x":0.8,"y":0.95},{"c":"TB","x":0.85,"y":1.03},{"c":"TB","x":0.99,"y":0.97},{"c":"TB","x":0.1,"y":0.8},{"c":"TB","x":0.17,"y":0.82},{"c":"TB","x":0.27,"y":0.75},{"c":"TB","x":0.34,"y":0.82},{"c":"TB","x":0.46,"y":0.82},{"c":"TB","x":0.59,"y":0.8},{"c":"TB","x":0.63,"y":0.73},{"c":"TB","x":0.73,"y":0.8},{"c":"TB","x":0.78,"y":0.7},{"c":"TB","x":0.85,"y":0.82},{"c":"TB","x":0.9,"y":0.7},{"c":"TB","x":0.02,"y":0.78},{"c":"TB","x":0.12,"y":0.65},{"c":"TB","x":0.27,"y":0.65},{"c":"TB","x":0.37,"y":0.61},{"c":"TB","x":0.51,"y":0.63},{"c":"TB","x":0.68,"y":0.63},{"c":"TB","x":0.88,"y":0.61},{"c":"TB","x":0.73,"y":0.65},{"c":"TB","x":1.05,"y":0.65},{"c":"TB","x":1.13,"y":2.28},{"c":"TB","x":1.38,"y":2.33},{"c":"TB","x":1.63,"y":2.43},{"c":"TB","x":1.85,"y":2.36},{"c":"TB","x":1.55,"y":2.05},{"c":"TB","x":1.82,"y":1.88},{"c":"TB","x":1.36,"y":1.93},{"c":"TB","x":1.6,"y":1.72},{"c":"TB","x":1.75,"y":1.6},{"c":"TB","x":1.15,"y":1.56},{"c":"TB","x":1.4,"y":1.4},{"c":"TB","x":1.86,"y":1.45},{"c":"TB","x":1.55,"y":1.33},{"c":"TB","x":1.03,"y":1.28},{"c":"TB","x":0.64,"y":1.28},{"c":"TB","x":0.4,"y":1.37},{"c":"TB","x":0.15,"y":1.4},{"c":"TB","x":0.9,"y":1.14},{"c":"TB","x":1.06,"y":1.07},{"c":"TB","x":1.3,"y":0.91},{"c":"TB","x":1.5,"y":0.88},{"c":"TB","x":1.85,"y":0.97},{"c":"TB","x":0.05,"y":0.9},{"c":"TB","x":0.3,"y":0.9},{"c":"TB","x":0.6,"y":0.88},{"c":"TB","x":0.98,"y":0.86},{"c":"TB","x":1.15,"y":0.7},{"c":"TB","x":1.4,"y":0.62},{"c":"TB","x":1.69,"y":0.67},{"c":"TB","x":0.2,"y":0.63},{"c":"TB","x":0.45,"y":0.7},{"c":"TB","x":0.82,"y":0.63},
{"c":"FB","x":-0.58,"y":3.35},{"c":"FB","x":-0.88,"y":3.27},{"c":"FB","x":-0.49,"y":3.31},{"c":"FB","x":-0.28,"y":3.29},{"c":"FB","x":-0.78,"y":3.2},{"c":"FB","x":-0.9,"y":3.12},{"c":"FB","x":-0.48,"y":3.18},{"c":"FB","x":-0.31,"y":3.15},{"c":"FB","x":-0.23,"y":3.14},{"c":"FB","x":-0.04,"y":3.07},{"c":"FB","x":-0.68,"y":3.04},{"c":"FB","x":-0.91,"y":2.91},{"c":"FB","x":-0.45,"y":2.72},{"c":"FB","x":-0.9,"y":3.21},{"c":"FB","x":0.04,"y":3.31},{"c":"FB","x":0.13,"y":3.3},{"c":"FB","x":0.39,"y":3.29},{"c":"FB","x":0.43,"y":3.14},{"c":"FB","x":0.1,"y":3.04},{"c":"FB","x":0.52,"y":2.99},{"c":"FB","x":0.95,"y":3.15},{"c":"FB","x":0.43,"y":3.35},{"c":"FB","x":-0.76,"y":2.41},{"c":"FB","x":-0.53,"y":2.04},{"c":"FB","x":-0.53,"y":1.89},{"c":"FB","x":-0.92,"y":1.88},{"c":"FB","x":-0.81,"y":1.76},{"c":"FB","x":-0.92,"y":1.69},{"c":"FB","x":-0.57,"y":1.67},{"c":"FB","x":-0.09,"y":1.75},{"c":"FB","x":0.73,"y":2.15},{"c":"FB","x":0.79,"y":2.0},{"c":"FB","x":0.55,"y":1.89},{"c":"FB","x":0.74,"y":1.87},{"c":"FB","x":0.84,"y":1.78},{"c":"FB","x":0.95,"y":1.75},{"c":"FB","x":0.18,"y":1.74},{"c":"FB","x":0.28,"y":1.7},{"c":"FB","x":0.61,"y":1.71},{"c":"FB","x":0.7,"y":1.65},
{"c":"FS","x":-0.22,"y":4.19},{"c":"FS","x":-0.84,"y":3.81},{"c":"FS","x":-0.12,"y":3.75},{"c":"FS","x":-0.51,"y":3.62},{"c":"FS","x":-0.9,"y":3.42},{"c":"FS","x":-0.17,"y":3.45},{"c":"FS","x":-0.29,"y":3.39},{"c":"FS","x":-0.96,"y":3.27},{"c":"FS","x":-1.02,"y":3.18},{"c":"FS","x":-1.4,"y":3.02},{"c":"FS","x":-1.4,"y":2.97},{"c":"FS","x":-1.2,"y":3.03},{"c":"FS","x":-1.18,"y":2.95},{"c":"FS","x":-1.13,"y":2.96},{"c":"FS","x":-1.03,"y":3.03},{"c":"FS","x":-1.0,"y":3.01},{"c":"FS","x":-1.19,"y":2.92},{"c":"FS","x":-1.04,"y":2.87},{"c":"FS","x":-1.27,"y":2.79},{"c":"FS","x":-1.2,"y":2.75},{"c":"FS","x":-1.11,"y":2.78},{"c":"FS","x":-1.04,"y":2.78},{"c":"FS","x":-1.1,"y":2.83},{"c":"FS","x":-0.98,"y":2.69},{"c":"FS","x":-1.12,"y":2.69},{"c":"FS","x":-1.06,"y":2.62},{"c":"FS","x":-1.34,"y":2.69},{"c":"FS","x":-1.44,"y":2.61},{"c":"FS","x":-1.39,"y":2.63},{"c":"FS","x":-1.24,"y":2.59},{"c":"FS","x":-1.48,"y":2.53},{"c":"FS","x":-1.39,"y":2.51},{"c":"FS","x":-1.26,"y":2.51},{"c":"FS","x":-1.07,"y":2.54},{"c":"FS","x":-0.99,"y":2.57},
{"c":"FS","x":0.65,"y":4.28},{"c":"FS","x":0.26,"y":3.85},{"c":"FS","x":0.71,"y":4.04},{"c":"FS","x":0.24,"y":3.42},{"c":"FS","x":0.39,"y":3.46},{"c":"FS","x":0.43,"y":3.44},{"c":"FS","x":0.87,"y":3.53},{"c":"FS","x":1.09,"y":3.17},{"c":"FS","x":0.99,"y":2.85},{"c":"FS","x":1.12,"y":2.78},{"c":"FS","x":1.2,"y":2.82},{"c":"FS","x":1.4,"y":2.76},{"c":"FS","x":1.44,"y":2.76},{"c":"FS","x":1.01,"y":2.63},{"c":"FS","x":1.11,"y":2.6},{"c":"FS","x":1.0,"y":2.53},{"c":"FS","x":1.32,"y":2.53},{"c":"FS","x":1.27,"y":2.51},
{"c":"FS","x":-1.45,"y":2.49},{"c":"FS","x":-1.39,"y":2.49},{"c":"FS","x":-1.26,"y":2.48},{"c":"FS","x":-1.17,"y":2.5},{"c":"FS","x":-1.07,"y":2.51},{"c":"FS","x":-1.65,"y":2.34},{"c":"FS","x":-1.34,"y":2.39},{"c":"FS","x":-1.34,"y":2.34},{"c":"FS","x":-1.19,"y":2.42},{"c":"FS","x":-1.17,"y":2.37},{"c":"FS","x":-1.12,"y":2.35},{"c":"FS","x":-1.09,"y":2.39},{"c":"FS","x":-1.01,"y":2.34},{"c":"FS","x":-0.96,"y":2.32},{"c":"FS","x":-1.44,"y":2.26},{"c":"FS","x":-1.32,"y":2.28},{"c":"FS","x":-1.23,"y":2.24},{"c":"FS","x":-1.16,"y":2.25},{"c":"FS","x":-1.05,"y":2.26},{"c":"FS","x":-1.4,"y":2.2},{"c":"FS","x":-1.27,"y":2.21},{"c":"FS","x":-1.17,"y":2.19},{"c":"FS","x":-1.07,"y":2.2},{"c":"FS","x":-1.0,"y":2.19},{"c":"FS","x":-1.42,"y":2.11},{"c":"FS","x":-1.26,"y":2.11},{"c":"FS","x":-1.18,"y":2.13},{"c":"FS","x":-1.07,"y":2.13},{"c":"FS","x":-1.49,"y":2.05},{"c":"FS","x":-1.35,"y":2.07},{"c":"FS","x":-1.21,"y":2.06},{"c":"FS","x":-1.11,"y":2.04},{"c":"FS","x":-1.04,"y":2.06},{"c":"FS","x":-0.98,"y":2.02},{"c":"FS","x":-1.66,"y":2.0},{"c":"FS","x":-1.29,"y":1.94},{"c":"FS","x":-1.19,"y":2.0},{"c":"FS","x":-1.09,"y":1.94},{"c":"FS","x":-1.04,"y":1.93},{"c":"FS","x":-1.12,"y":1.85},{"c":"FS","x":-1.05,"y":1.85},{"c":"FS","x":-0.96,"y":1.9},{"c":"FS","x":-1.42,"y":1.79},{"c":"FS","x":-1.19,"y":1.8},{"c":"FS","x":-1.12,"y":1.78},{"c":"FS","x":-1.05,"y":1.75},{"c":"FS","x":-0.96,"y":1.82},{"c":"FS","x":-1.38,"y":1.72},{"c":"FS","x":-1.32,"y":1.7},{"c":"FS","x":-1.29,"y":1.66},{"c":"FS","x":-1.06,"y":1.7},{"c":"FS","x":-1.02,"y":1.65},{"c":"FS","x":-1.0,"y":1.62},{"c":"FS","x":-0.94,"y":1.59},{"c":"FS","x":-1.32,"y":1.57},{"c":"FS","x":-0.98,"y":1.59},{"c":"FS","x":-0.78,"y":1.62},{"c":"FS","x":-0.71,"y":1.6},{"c":"FS","x":-0.65,"y":1.6},{"c":"FS","x":-0.5,"y":1.65},{"c":"FS","x":-0.44,"y":1.58},{"c":"FS","x":-0.37,"y":1.62},{"c":"FS","x":-0.24,"y":1.6},{"c":"FS","x":-0.16,"y":1.62},{"c":"FS","x":-0.1,"y":1.62},{"c":"FS","x":-0.02,"y":1.65},{"c":"FS","x":-0.48,"y":1.51},{"c":"FS","x":-0.41,"y":1.51},{"c":"FS","x":-0.35,"y":1.51},{"c":"FS","x":-0.27,"y":1.51},{"c":"FS","x":-0.18,"y":1.43},{"c":"FS","x":-0.09,"y":1.48},{"c":"FS","x":0.0,"y":1.51},{"c":"FS","x":-0.83,"y":1.49},{"c":"FS","x":-0.8,"y":1.47},{"c":"FS","x":-0.66,"y":1.47},{"c":"FS","x":-0.99,"y":1.46},{"c":"FS","x":-0.93,"y":1.43},{"c":"FS","x":-0.85,"y":1.45},{"c":"FS","x":-0.6,"y":1.39},{"c":"FS","x":-1.2,"y":1.43},{"c":"FS","x":-0.36,"y":1.34},{"c":"FS","x":-0.35,"y":1.28},{"c":"FS","x":-0.1,"y":1.3},{"c":"FS","x":-0.09,"y":1.14},{"c":"FS","x":-1.57,"y":0.97},
{"c":"FS","x":1.09,"y":2.32},{"c":"FS","x":1.16,"y":2.33},{"c":"FS","x":1.09,"y":2.13},{"c":"FS","x":1.21,"y":2.07},{"c":"FS","x":1.07,"y":1.99},{"c":"FS","x":1.16,"y":1.92},{"c":"FS","x":1.1,"y":1.87},{"c":"FS","x":1.0,"y":1.87},{"c":"FS","x":1.05,"y":1.79},{"c":"FS","x":1.02,"y":1.68},{"c":"FS","x":0.01,"y":1.63},{"c":"FS","x":0.11,"y":1.63},{"c":"FS","x":0.2,"y":1.62},{"c":"FS","x":0.3,"y":1.62},{"c":"FS","x":0.53,"y":1.6},{"c":"FS","x":0.63,"y":1.62},{"c":"FS","x":0.74,"y":1.61},{"c":"FS","x":0.83,"y":1.61},{"c":"FS","x":0.9,"y":1.59},{"c":"FS","x":0.97,"y":1.59},{"c":"FS","x":0.2,"y":1.52},{"c":"FS","x":0.28,"y":1.56},{"c":"FS","x":0.72,"y":1.52},{"c":"FS","x":0.8,"y":1.58},{"c":"FS","x":0.87,"y":1.52},{"c":"FS","x":1.02,"y":1.51},{"c":"FS","x":0.35,"y":1.43},{"c":"FS","x":0.49,"y":1.43},{"c":"FS","x":0.04,"y":1.4},{"c":"FS","x":0.18,"y":1.35},{"c":"FS","x":0.32,"y":1.35},{"c":"FS","x":0.81,"y":1.36},{"c":"FS","x":0.92,"y":1.32},{"c":"FS","x":0.13,"y":1.26},{"c":"FS","x":0.93,"y":0.89}
]
},
"spacing":118,
"hconcat":[
{
"width":520,"height":520,
"title":{"text":"Left Handed Batters"},
"layer":[
{"data":{"name":"lhb"},
"mark":{"type":"point","filled":true,"size":120,"opacity":1,"stroke":"white","strokeWidth":1,"clip":true},
"encoding":{
"x":{"field":"x","type":"quantitative","title":"Pitcher's Perspective Side [feet]","scale":{"domain":[-1.9,1.9],"nice":false,"zero":false},"axis":{"values":[-1.5,-1,-0.5,0,0.5,1,1.5],"format":".1f","titlePadding":10}},
"y":{"field":"y","type":"quantitative","title":"Height [feet]","scale":{"domain":[0.6,4.4],"nice":false,"zero":false},"axis":{"values":[1,1.5,2,2.5,3,3.5,4],"format":".1f","titlePadding":11}},
"color":{"field":"c","type":"nominal","scale":{"domain":["TS","TB","FB","FS"],"range":["#add8e6","#f08080","#8b0000","#000080"]},"legend":{"title":null,"orient":"top-right","labelExpr":"{'TS':'True Strike (n=194)','TB':'True Ball (n=607)','FB':'False Ball (n=26)','FS':'False Strike (n=106)'}[datum.label]"}},
"shape":{"field":"c","type":"nominal","scale":{"domain":["TS","TB","FB","FS"],"range":["circle","square","square","circle"]},"legend":{"title":null,"orient":"top-right","labelExpr":"{'TS':'True Strike (n=194)','TB':'True Ball (n=607)','FB':'False Ball (n=26)','FS':'False Strike (n=106)'}[datum.label]"}}
}},
{"data":{"name":"zone"},
"mark":{"type":"rect","filled":false,"stroke":"black","strokeWidth":2},
"encoding":{
"x":{"field":"x1","type":"quantitative","title":"Pitcher's Perspective Side [feet]"},"x2":{"field":"x2"},
"y":{"field":"y1","type":"quantitative","title":"Height [feet]"},"y2":{"field":"y2"}
}}
]
},
{
"width":520,"height":520,
"title":{"text":"Right Handed Batters"},
"layer":[
{"data":{"name":"rhb"},
"mark":{"type":"point","filled":true,"size":120,"opacity":1,"stroke":"white","strokeWidth":1,"clip":true},
"encoding":{
"x":{"field":"x","type":"quantitative","title":"Pitcher's Perspective Side [feet]","scale":{"domain":[-1.9,1.9],"nice":false,"zero":false},"axis":{"values":[-1.5,-1,-0.5,0,0.5,1,1.5],"format":".1f","titlePadding":10}},
"y":{"field":"y","type":"quantitative","title":null,"scale":{"domain":[0.6,4.4],"nice":false,"zero":false},"axis":{"values":[1,1.5,2,2.5,3,3.5,4],"labels":false,"title":null}},
"color":{"field":"c","type":"nominal","scale":{"domain":["TS","TB","FB","FS"],"range":["#add8e6","#f08080","#8b0000","#000080"]},"legend":{"title":null,"orient":"top-right","labelExpr":"{'TS':'True Strike (n=490)','TB':'True Ball (n=1373)','FB':'False Ball (n=54)','FS':'False Strike (n=211)'}[datum.label]"}},
"shape":{"field":"c","type":"nominal","scale":{"domain":["TS","TB","FB","FS"],"range":["circle","square","square","circle"]},"legend":{"title":null,"orient":"top-right","labelExpr":"{'TS':'True Strike (n=490)','TB':'True Ball (n=1373)','FB':'False Ball (n=54)','FS':'False Strike (n=211)'}[datum.label]"}}
}},
{"data":{"name":"zone"},
"mark":{"type":"rect","filled":false,"stroke":"black","strokeWidth":2},
"encoding":{
"x":{"field":"x1","type":"quantitative","title":"Pitcher's Perspective Side [feet]"},"x2":{"field":"x2"},
"y":{"field":"y1","type":"quantitative","title":null},"y2":{"field":"y2"}
}}
]
}
],
"resolve":{"scale":{"color":"independent","shape":"independent"},"legend":{"color":"independent","shape":"independent"}}
}
